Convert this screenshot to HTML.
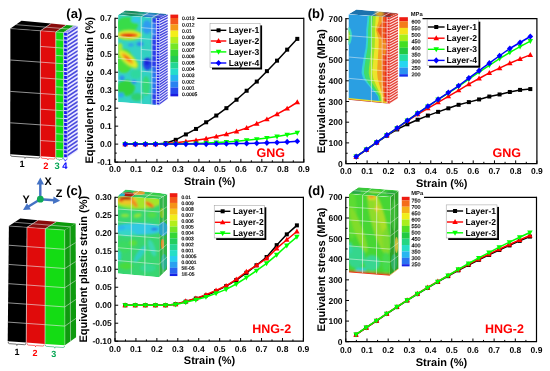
<!DOCTYPE html>
<html lang="en"><head><meta charset="utf-8"><title>Figure: GNG and HNG-2 layer strain / stress</title>
<style>html,body{margin:0;padding:0;background:#fff;}body{width:550px;height:371px;overflow:hidden;}svg{display:block;}</style></head>
<body>
<svg width="550" height="371" viewBox="0 0 550 371" text-rendering="geometricPrecision" font-family='"Liberation Sans", Arial, Helvetica, sans-serif'><defs><filter id="bl1" x="-30%" y="-30%" width="160%" height="160%"><feGaussianBlur stdDeviation="1.1"/></filter><filter id="bl2" x="-30%" y="-30%" width="160%" height="160%"><feGaussianBlur stdDeviation="1.8"/></filter><filter id="bl0" x="-30%" y="-30%" width="160%" height="160%"><feGaussianBlur stdDeviation="0.6"/></filter><clipPath id="cp1"><polygon points="118.1,14.9 125.2,10.5 167.7,14.1 159.6,18.2"/></clipPath><clipPath id="cp2"><polygon points="118.1,14.9 159.6,18.2 159.6,105.3 118.1,102"/></clipPath><clipPath id="cp3"><polygon points="348.5,14.3 356.4,9.4 398.1,13.2 389.9,17.2"/></clipPath><clipPath id="cp4"><polygon points="348.5,14.3 389.9,17.2 389.9,103.8 348.5,99.7"/></clipPath><clipPath id="cp5"><polygon points="117.9,196.1 125.5,189.6 167.3,194 159.1,198.9"/></clipPath><clipPath id="cp6"><polygon points="159.1,198.9 167.3,194 167,269.4 159.1,277.2"/></clipPath><clipPath id="cp7"><polygon points="117.9,196.1 159.1,198.9 159.1,277.2 117.9,273.5"/></clipPath><clipPath id="cp8"><polygon points="349,194 358.6,187.2 398.6,190.6 390.4,196.9"/></clipPath><clipPath id="cp9"><polygon points="390.4,196.9 398.6,190.6 398.6,268.6 389.9,275.2"/></clipPath><clipPath id="cp10"><polygon points="349,194 390.4,196.9 389.9,275.2 349,271.9"/></clipPath></defs><rect width="550" height="371" fill="#fff"/><g stroke="#000" stroke-width="1.2" fill="none" stroke-linecap="square">
<path d="M115 18.3 V162.1 H303.8 V18.3"/>
<path stroke-linecap="butt" d="M303.8 18.3 H197.2"/>
<path stroke-width="1" stroke-linecap="butt" d="M115 162.1v-3.2M125.49 162.1v-1.8M135.98 162.1v-3.2M146.47 162.1v-1.8M156.96 162.1v-3.2M167.44 162.1v-1.8M177.93 162.1v-3.2M188.42 162.1v-1.8M198.91 162.1v-3.2M209.4 162.1v-1.8M219.89 162.1v-3.2M230.38 162.1v-1.8M240.87 162.1v-3.2M251.36 162.1v-1.8M261.84 162.1v-3.2M272.33 162.1v-1.8M282.82 162.1v-3.2M293.31 162.1v-1.8M303.8 162.1v-3.2M115 162.1h3.2M115 153.11h1.8M115 144.12h3.2M115 135.14h1.8M115 126.15h3.2M115 117.16h1.8M115 108.17h3.2M115 99.19h1.8M115 90.2h3.2M115 81.21h1.8M115 72.22h3.2M115 63.24h1.8M115 54.25h3.2M115 45.26h1.8M115 36.27h3.2M115 27.29h1.8M115 18.3h3.2"/>
</g>
<g font-size="8.5" font-weight="bold" fill="#000">
<text x="115" y="172.3" text-anchor="middle">0.0</text>
<text x="135.98" y="172.3" text-anchor="middle">0.1</text>
<text x="156.96" y="172.3" text-anchor="middle">0.2</text>
<text x="177.93" y="172.3" text-anchor="middle">0.3</text>
<text x="198.91" y="172.3" text-anchor="middle">0.4</text>
<text x="219.89" y="172.3" text-anchor="middle">0.5</text>
<text x="240.87" y="172.3" text-anchor="middle">0.6</text>
<text x="261.84" y="172.3" text-anchor="middle">0.7</text>
<text x="282.82" y="172.3" text-anchor="middle">0.8</text>
<text x="303.8" y="172.3" text-anchor="middle">0.9</text>
<text x="111.8" y="165.15" text-anchor="end">-0.1</text>
<text x="111.8" y="147.18" text-anchor="end">0.0</text>
<text x="111.8" y="129.2" text-anchor="end">0.1</text>
<text x="111.8" y="111.22" text-anchor="end">0.2</text>
<text x="111.8" y="93.25" text-anchor="end">0.3</text>
<text x="111.8" y="75.27" text-anchor="end">0.4</text>
<text x="111.8" y="57.3" text-anchor="end">0.5</text>
<text x="111.8" y="39.32" text-anchor="end">0.6</text>
<text x="111.8" y="21.35" text-anchor="end">0.7</text>
</g>
<text x="209.7" y="184.8" font-size="11" font-weight="bold" fill="#000" text-anchor="middle">Strain (%)</text>
<text transform="translate(92.9 90.2) rotate(-90)" font-size="11" font-weight="bold" text-anchor="middle">Equivalent plastic strain (%)</text>
<polyline points="125.13,144.12 135.25,144.12 145.38,144.12 155.51,144.12 165.64,143.23 175.76,139.81 185.89,134.42 196.02,128.95 206.15,122.27 216.27,115.54 226.4,108.17 236.53,99.73 246.65,90.74 256.78,81.57 266.91,71.15 277.04,60.65 287.16,49.65 297.29,38.86" fill="none" stroke="#000000" stroke-width="1.5" stroke-linejoin="round"/>
<rect x="123.13" y="142.12" width="4" height="4" fill="#000000"/><rect x="133.25" y="142.12" width="4" height="4" fill="#000000"/><rect x="143.38" y="142.12" width="4" height="4" fill="#000000"/><rect x="153.51" y="142.12" width="4" height="4" fill="#000000"/><rect x="163.64" y="141.23" width="4" height="4" fill="#000000"/><rect x="173.76" y="137.81" width="4" height="4" fill="#000000"/><rect x="183.89" y="132.42" width="4" height="4" fill="#000000"/><rect x="194.02" y="126.95" width="4" height="4" fill="#000000"/><rect x="204.15" y="120.27" width="4" height="4" fill="#000000"/><rect x="214.27" y="113.54" width="4" height="4" fill="#000000"/><rect x="224.4" y="106.17" width="4" height="4" fill="#000000"/><rect x="234.53" y="97.73" width="4" height="4" fill="#000000"/><rect x="244.65" y="88.74" width="4" height="4" fill="#000000"/><rect x="254.78" y="79.57" width="4" height="4" fill="#000000"/><rect x="264.91" y="69.15" width="4" height="4" fill="#000000"/><rect x="275.04" y="58.65" width="4" height="4" fill="#000000"/><rect x="285.16" y="47.65" width="4" height="4" fill="#000000"/><rect x="295.29" y="36.86" width="4" height="4" fill="#000000"/>
<polyline points="125.13,144.12 135.25,144.12 145.38,144.12 155.51,144.12 165.64,143.59 175.76,142.69 185.89,141.61 196.02,140.35 206.15,138.73 216.27,136.58 226.4,134.24 236.53,131.36 246.65,127.95 256.78,123.63 266.91,119.32 277.04,114.11 287.16,108.53 297.29,102.24" fill="none" stroke="#ff0000" stroke-width="1.5" stroke-linejoin="round"/>
<polygon points="125.13,141.22 127.88,146.16 122.37,146.16" fill="#ff0000"/><polygon points="135.25,141.22 138.01,146.16 132.5,146.16" fill="#ff0000"/><polygon points="145.38,141.22 148.14,146.16 142.63,146.16" fill="#ff0000"/><polygon points="155.51,141.22 158.26,146.16 152.75,146.16" fill="#ff0000"/><polygon points="165.64,140.69 168.39,145.62 162.88,145.62" fill="#ff0000"/><polygon points="175.76,139.79 178.52,144.72 173.01,144.72" fill="#ff0000"/><polygon points="185.89,138.71 188.65,143.64 183.14,143.64" fill="#ff0000"/><polygon points="196.02,137.45 198.77,142.38 193.26,142.38" fill="#ff0000"/><polygon points="206.15,135.83 208.9,140.76 203.39,140.76" fill="#ff0000"/><polygon points="216.27,133.68 219.03,138.61 213.52,138.61" fill="#ff0000"/><polygon points="226.4,131.34 229.15,136.27 223.64,136.27" fill="#ff0000"/><polygon points="236.53,128.46 239.28,133.39 233.77,133.39" fill="#ff0000"/><polygon points="246.65,125.05 249.41,129.98 243.9,129.98" fill="#ff0000"/><polygon points="256.78,120.73 259.54,125.66 254.03,125.66" fill="#ff0000"/><polygon points="266.91,116.42 269.66,121.35 264.15,121.35" fill="#ff0000"/><polygon points="277.04,111.21 279.79,116.14 274.28,116.14" fill="#ff0000"/><polygon points="287.16,105.63 289.92,110.56 284.41,110.56" fill="#ff0000"/><polygon points="297.29,99.34 300.05,104.27 294.54,104.27" fill="#ff0000"/>
<polyline points="125.13,144.12 135.25,144.12 145.38,144.12 155.51,144.12 165.64,144.12 175.76,143.95 185.89,143.77 196.02,143.41 206.15,143.05 216.27,142.51 226.4,141.97 236.53,141.25 246.65,140.35 256.78,139.27 266.91,138.01 277.04,136.58 287.16,134.78 297.29,132.8" fill="none" stroke="#00ff00" stroke-width="1.5" stroke-linejoin="round"/>
<polygon points="125.13,147.03 127.88,142.09 122.37,142.09" fill="#00ff00"/><polygon points="135.25,147.03 138.01,142.09 132.5,142.09" fill="#00ff00"/><polygon points="145.38,147.03 148.14,142.09 142.63,142.09" fill="#00ff00"/><polygon points="155.51,147.03 158.26,142.09 152.75,142.09" fill="#00ff00"/><polygon points="165.64,147.03 168.39,142.09 162.88,142.09" fill="#00ff00"/><polygon points="175.76,146.85 178.52,141.92 173.01,141.92" fill="#00ff00"/><polygon points="185.89,146.67 188.65,141.74 183.14,141.74" fill="#00ff00"/><polygon points="196.02,146.31 198.77,141.38 193.26,141.38" fill="#00ff00"/><polygon points="206.15,145.95 208.9,141.02 203.39,141.02" fill="#00ff00"/><polygon points="216.27,145.41 219.03,140.48 213.52,140.48" fill="#00ff00"/><polygon points="226.4,144.87 229.15,139.94 223.64,139.94" fill="#00ff00"/><polygon points="236.53,144.15 239.28,139.22 233.77,139.22" fill="#00ff00"/><polygon points="246.65,143.25 249.41,138.32 243.9,138.32" fill="#00ff00"/><polygon points="256.78,142.17 259.54,137.24 254.03,137.24" fill="#00ff00"/><polygon points="266.91,140.91 269.66,135.98 264.15,135.98" fill="#00ff00"/><polygon points="277.04,139.48 279.79,134.55 274.28,134.55" fill="#00ff00"/><polygon points="287.16,137.68 289.92,132.75 284.41,132.75" fill="#00ff00"/><polygon points="297.29,135.7 300.05,130.77 294.54,130.77" fill="#00ff00"/>
<polyline points="125.13,144.12 135.25,144.12 145.38,144.12 155.51,144.12 165.64,144.12 175.76,144.12 185.89,144.12 196.02,144.12 206.15,144.12 216.27,143.95 226.4,143.77 236.53,143.59 246.65,143.41 256.78,143.23 266.91,142.87 277.04,142.51 287.16,141.97 297.29,141.25" fill="none" stroke="#0000ff" stroke-width="1.5" stroke-linejoin="round"/>
<polygon points="125.13,141.03 127.98,144.12 125.13,147.22 122.28,144.12" fill="#0000ff"/><polygon points="135.25,141.03 138.11,144.12 135.25,147.22 132.4,144.12" fill="#0000ff"/><polygon points="145.38,141.03 148.23,144.12 145.38,147.22 142.53,144.12" fill="#0000ff"/><polygon points="155.51,141.03 158.36,144.12 155.51,147.22 152.66,144.12" fill="#0000ff"/><polygon points="165.64,141.03 168.49,144.12 165.64,147.22 162.78,144.12" fill="#0000ff"/><polygon points="175.76,141.03 178.62,144.12 175.76,147.22 172.91,144.12" fill="#0000ff"/><polygon points="185.89,141.03 188.74,144.12 185.89,147.22 183.04,144.12" fill="#0000ff"/><polygon points="196.02,141.03 198.87,144.12 196.02,147.22 193.17,144.12" fill="#0000ff"/><polygon points="206.15,141.03 209,144.12 206.15,147.22 203.29,144.12" fill="#0000ff"/><polygon points="216.27,140.85 219.12,143.95 216.27,147.05 213.42,143.95" fill="#0000ff"/><polygon points="226.4,140.67 229.25,143.77 226.4,146.87 223.55,143.77" fill="#0000ff"/><polygon points="236.53,140.49 239.38,143.59 236.53,146.69 233.67,143.59" fill="#0000ff"/><polygon points="246.65,140.31 249.51,143.41 246.65,146.51 243.8,143.41" fill="#0000ff"/><polygon points="256.78,140.13 259.63,143.23 256.78,146.33 253.93,143.23" fill="#0000ff"/><polygon points="266.91,139.77 269.76,142.87 266.91,145.97 264.06,142.87" fill="#0000ff"/><polygon points="277.04,139.41 279.89,142.51 277.04,145.61 274.18,142.51" fill="#0000ff"/><polygon points="287.16,138.87 290.01,141.97 287.16,145.07 284.31,141.97" fill="#0000ff"/><polygon points="297.29,138.15 300.14,141.25 297.29,144.35 294.44,141.25" fill="#0000ff"/>
<rect x="212" y="25.4" width="50.1" height="44.1" fill="#000"/>
<rect x="210" y="23.4" width="50.1" height="44.1" fill="#fff" stroke="#9a9a9a" stroke-width="0.5"/>
<path d="M210.8 30.3H226.3" stroke="#000000" stroke-width="1.4"/>
<rect x="216.55" y="28.3" width="4" height="4" fill="#000000"/>
<text x="228.8" y="33.3" font-size="8.6" font-weight="bold">Layer-1</text>
<path d="M210.8 41H226.3" stroke="#ff0000" stroke-width="1.4"/>
<polygon points="218.55,38.1 221.31,43.03 215.8,43.03" fill="#ff0000"/>
<text x="228.8" y="44" font-size="8.6" font-weight="bold">Layer-2</text>
<path d="M210.8 51.9H226.3" stroke="#00ff00" stroke-width="1.4"/>
<polygon points="218.55,54.8 221.31,49.87 215.8,49.87" fill="#00ff00"/>
<text x="228.8" y="54.9" font-size="8.6" font-weight="bold">Layer-3</text>
<path d="M210.8 63H226.3" stroke="#0000ff" stroke-width="1.4"/>
<polygon points="218.55,59.9 221.4,63 218.55,66.1 215.7,63" fill="#0000ff"/>
<text x="228.8" y="66" font-size="8.6" font-weight="bold">Layer-4</text>
<text x="74.3" y="18.2" font-size="13" font-weight="bold" fill="#000" text-anchor="middle">(a)</text>
<text x="256.6" y="156.6" font-size="12.5" font-weight="bold" fill="#ff0000" text-anchor="start">GNG</text>
<g stroke="#000" stroke-width="1.2" fill="none" stroke-linecap="square">
<path d="M345.9 18.7 V163.6 H536.9 V18.7"/>
<path stroke-linecap="butt" d="M536.9 18.7 H422.5"/>
<path stroke-width="1" stroke-linecap="butt" d="M345.9 163.6v-3.2M356.51 163.6v-1.8M367.12 163.6v-3.2M377.73 163.6v-1.8M388.34 163.6v-3.2M398.96 163.6v-1.8M409.57 163.6v-3.2M420.18 163.6v-1.8M430.79 163.6v-3.2M441.4 163.6v-1.8M452.01 163.6v-3.2M462.62 163.6v-1.8M473.23 163.6v-3.2M483.84 163.6v-1.8M494.46 163.6v-3.2M505.07 163.6v-1.8M515.68 163.6v-3.2M526.29 163.6v-1.8M536.9 163.6v-3.2M345.9 163.6h3.2M345.9 153.25h1.8M345.9 142.9h3.2M345.9 132.55h1.8M345.9 122.2h3.2M345.9 111.85h1.8M345.9 101.5h3.2M345.9 91.15h1.8M345.9 80.8h3.2M345.9 70.45h1.8M345.9 60.1h3.2M345.9 49.75h1.8M345.9 39.4h3.2M345.9 29.05h1.8M345.9 18.7h3.2"/>
</g>
<g font-size="8.5" font-weight="bold" fill="#000">
<text x="345.9" y="174.3" text-anchor="middle">0.0</text>
<text x="367.12" y="174.3" text-anchor="middle">0.1</text>
<text x="388.34" y="174.3" text-anchor="middle">0.2</text>
<text x="409.57" y="174.3" text-anchor="middle">0.3</text>
<text x="430.79" y="174.3" text-anchor="middle">0.4</text>
<text x="452.01" y="174.3" text-anchor="middle">0.5</text>
<text x="473.23" y="174.3" text-anchor="middle">0.6</text>
<text x="494.46" y="174.3" text-anchor="middle">0.7</text>
<text x="515.68" y="174.3" text-anchor="middle">0.8</text>
<text x="536.9" y="174.3" text-anchor="middle">0.9</text>
<text x="342.7" y="166.65" text-anchor="end">0</text>
<text x="342.7" y="145.95" text-anchor="end">100</text>
<text x="342.7" y="125.25" text-anchor="end">200</text>
<text x="342.7" y="104.55" text-anchor="end">300</text>
<text x="342.7" y="83.85" text-anchor="end">400</text>
<text x="342.7" y="63.15" text-anchor="end">500</text>
<text x="342.7" y="42.45" text-anchor="end">600</text>
<text x="342.7" y="21.75" text-anchor="end">700</text>
</g>
<text x="441.7" y="186.6" font-size="11" font-weight="bold" fill="#000" text-anchor="middle">Strain (%)</text>
<text transform="translate(324.6 91.15) rotate(-90)" font-size="11" font-weight="bold" text-anchor="middle">Equivalent stress (MPa)</text>
<polyline points="356.15,156.77 366.39,149.73 376.64,142.69 386.88,135.66 397.13,129.44 407.37,124.27 417.62,119.72 427.86,115.58 438.11,111.85 448.35,108.33 458.6,104.81 468.84,102.12 479.09,99.43 489.33,96.53 499.58,94.46 509.82,91.98 520.07,89.91 530.31,89.08" fill="none" stroke="#000000" stroke-width="1.5" stroke-linejoin="round"/>
<rect x="354.15" y="154.77" width="4" height="4" fill="#000000"/><rect x="364.39" y="147.73" width="4" height="4" fill="#000000"/><rect x="374.64" y="140.69" width="4" height="4" fill="#000000"/><rect x="384.88" y="133.66" width="4" height="4" fill="#000000"/><rect x="395.13" y="127.44" width="4" height="4" fill="#000000"/><rect x="405.37" y="122.27" width="4" height="4" fill="#000000"/><rect x="415.62" y="117.72" width="4" height="4" fill="#000000"/><rect x="425.86" y="113.58" width="4" height="4" fill="#000000"/><rect x="436.11" y="109.85" width="4" height="4" fill="#000000"/><rect x="446.35" y="106.33" width="4" height="4" fill="#000000"/><rect x="456.6" y="102.81" width="4" height="4" fill="#000000"/><rect x="466.84" y="100.12" width="4" height="4" fill="#000000"/><rect x="477.09" y="97.43" width="4" height="4" fill="#000000"/><rect x="487.33" y="94.53" width="4" height="4" fill="#000000"/><rect x="497.58" y="92.46" width="4" height="4" fill="#000000"/><rect x="507.82" y="89.98" width="4" height="4" fill="#000000"/><rect x="518.07" y="87.91" width="4" height="4" fill="#000000"/><rect x="528.31" y="87.08" width="4" height="4" fill="#000000"/>
<polyline points="356.15,156.77 366.39,149.73 376.64,142.49 386.88,135.24 397.13,128.2 407.37,120.96 417.62,114.33 427.86,108.33 438.11,102.33 448.35,96.32 458.6,90.32 468.84,84.11 479.09,78.52 489.33,72.93 499.58,68.17 509.82,63.2 520.07,58.86 530.31,54.92" fill="none" stroke="#ff0000" stroke-width="1.5" stroke-linejoin="round"/>
<polygon points="356.15,153.87 358.9,158.8 353.39,158.8" fill="#ff0000"/><polygon points="366.39,146.83 369.15,151.76 363.64,151.76" fill="#ff0000"/><polygon points="376.64,139.59 379.39,144.52 373.88,144.52" fill="#ff0000"/><polygon points="386.88,132.34 389.64,137.27 384.13,137.27" fill="#ff0000"/><polygon points="397.13,125.3 399.88,130.23 394.37,130.23" fill="#ff0000"/><polygon points="407.37,118.06 410.13,122.99 404.62,122.99" fill="#ff0000"/><polygon points="417.62,111.43 420.37,116.36 414.86,116.36" fill="#ff0000"/><polygon points="427.86,105.43 430.62,110.36 425.11,110.36" fill="#ff0000"/><polygon points="438.11,99.43 440.86,104.36 435.35,104.36" fill="#ff0000"/><polygon points="448.35,93.42 451.11,98.35 445.6,98.35" fill="#ff0000"/><polygon points="458.6,87.42 461.35,92.35 455.84,92.35" fill="#ff0000"/><polygon points="468.84,81.21 471.6,86.14 466.09,86.14" fill="#ff0000"/><polygon points="479.09,75.62 481.84,80.55 476.33,80.55" fill="#ff0000"/><polygon points="489.33,70.03 492.09,74.96 486.58,74.96" fill="#ff0000"/><polygon points="499.58,65.27 502.33,70.2 496.82,70.2" fill="#ff0000"/><polygon points="509.82,60.3 512.58,65.23 507.07,65.23" fill="#ff0000"/><polygon points="520.07,55.96 522.82,60.89 517.31,60.89" fill="#ff0000"/><polygon points="530.31,52.02 533.07,56.95 527.56,56.95" fill="#ff0000"/>
<polyline points="356.15,156.56 366.39,149.52 376.64,142.28 386.88,135.03 397.13,128 407.37,120.54 417.62,113.3 427.86,106.47 438.11,99.64 448.35,93.01 458.6,86.39 468.84,79.14 479.09,72.11 489.33,65.27 499.58,58.65 509.82,52.44 520.07,46.64 530.31,41.06" fill="none" stroke="#00ff00" stroke-width="1.5" stroke-linejoin="round"/>
<polygon points="356.15,159.46 358.9,154.53 353.39,154.53" fill="#00ff00"/><polygon points="366.39,152.42 369.15,147.49 363.64,147.49" fill="#00ff00"/><polygon points="376.64,145.18 379.39,140.25 373.88,140.25" fill="#00ff00"/><polygon points="386.88,137.93 389.64,133 384.13,133" fill="#00ff00"/><polygon points="397.13,130.9 399.88,125.97 394.37,125.97" fill="#00ff00"/><polygon points="407.37,123.44 410.13,118.51 404.62,118.51" fill="#00ff00"/><polygon points="417.62,116.2 420.37,111.27 414.86,111.27" fill="#00ff00"/><polygon points="427.86,109.37 430.62,104.44 425.11,104.44" fill="#00ff00"/><polygon points="438.11,102.54 440.86,97.61 435.35,97.61" fill="#00ff00"/><polygon points="448.35,95.91 451.11,90.98 445.6,90.98" fill="#00ff00"/><polygon points="458.6,89.29 461.35,84.36 455.84,84.36" fill="#00ff00"/><polygon points="468.84,82.04 471.6,77.11 466.09,77.11" fill="#00ff00"/><polygon points="479.09,75.01 481.84,70.08 476.33,70.08" fill="#00ff00"/><polygon points="489.33,68.17 492.09,63.24 486.58,63.24" fill="#00ff00"/><polygon points="499.58,61.55 502.33,56.62 496.82,56.62" fill="#00ff00"/><polygon points="509.82,55.34 512.58,50.41 507.07,50.41" fill="#00ff00"/><polygon points="520.07,49.54 522.82,44.61 517.31,44.61" fill="#00ff00"/><polygon points="530.31,43.96 533.07,39.03 527.56,39.03" fill="#00ff00"/>
<polyline points="356.15,156.56 366.39,149.52 376.64,142.28 386.88,135.03 397.13,128 407.37,120.54 417.62,113.3 427.86,106.26 438.11,99.43 448.35,92.6 458.6,85.77 468.84,78.11 479.09,70.66 489.33,63.2 499.58,55.75 509.82,48.51 520.07,42.5 530.31,36.5" fill="none" stroke="#0000ff" stroke-width="1.5" stroke-linejoin="round"/>
<polygon points="356.15,153.46 359,156.56 356.15,159.66 353.29,156.56" fill="#0000ff"/><polygon points="366.39,146.42 369.24,149.52 366.39,152.62 363.54,149.52" fill="#0000ff"/><polygon points="376.64,139.18 379.49,142.28 376.64,145.38 373.78,142.28" fill="#0000ff"/><polygon points="386.88,131.93 389.73,135.03 386.88,138.13 384.03,135.03" fill="#0000ff"/><polygon points="397.13,124.9 399.98,128 397.13,131.1 394.27,128" fill="#0000ff"/><polygon points="407.37,117.44 410.22,120.54 407.37,123.64 404.52,120.54" fill="#0000ff"/><polygon points="417.62,110.2 420.47,113.3 417.62,116.4 414.76,113.3" fill="#0000ff"/><polygon points="427.86,103.16 430.71,106.26 427.86,109.36 425.01,106.26" fill="#0000ff"/><polygon points="438.11,96.33 440.96,99.43 438.11,102.53 435.26,99.43" fill="#0000ff"/><polygon points="448.35,89.5 451.2,92.6 448.35,95.7 445.5,92.6" fill="#0000ff"/><polygon points="458.6,82.67 461.45,85.77 458.6,88.87 455.75,85.77" fill="#0000ff"/><polygon points="468.84,75.01 471.69,78.11 468.84,81.21 465.99,78.11" fill="#0000ff"/><polygon points="479.09,67.56 481.94,70.66 479.09,73.76 476.24,70.66" fill="#0000ff"/><polygon points="489.33,60.1 492.19,63.2 489.33,66.3 486.48,63.2" fill="#0000ff"/><polygon points="499.58,52.65 502.43,55.75 499.58,58.85 496.73,55.75" fill="#0000ff"/><polygon points="509.82,45.41 512.68,48.51 509.82,51.61 506.97,48.51" fill="#0000ff"/><polygon points="520.07,39.4 522.92,42.5 520.07,45.6 517.22,42.5" fill="#0000ff"/><polygon points="530.31,33.4 533.17,36.5 530.31,39.6 527.46,36.5" fill="#0000ff"/>
<rect x="429.1" y="21.7" width="51.2" height="46" fill="#000"/>
<rect x="427.1" y="19.7" width="51.2" height="46" fill="#fff" stroke="#9a9a9a" stroke-width="0.5"/>
<path d="M427.9 27H444.6" stroke="#000000" stroke-width="1.4"/>
<rect x="434.25" y="25" width="4" height="4" fill="#000000"/>
<text x="446.5" y="30" font-size="8.6" font-weight="bold">Layer-1</text>
<path d="M427.9 38.2H444.6" stroke="#ff0000" stroke-width="1.4"/>
<polygon points="436.25,35.3 439,40.23 433.5,40.23" fill="#ff0000"/>
<text x="446.5" y="41.2" font-size="8.6" font-weight="bold">Layer-2</text>
<path d="M427.9 49.3H444.6" stroke="#00ff00" stroke-width="1.4"/>
<polygon points="436.25,52.2 439,47.27 433.5,47.27" fill="#00ff00"/>
<text x="446.5" y="52.3" font-size="8.6" font-weight="bold">Layer-3</text>
<path d="M427.9 60.4H444.6" stroke="#0000ff" stroke-width="1.4"/>
<polygon points="436.25,57.3 439.1,60.4 436.25,63.5 433.4,60.4" fill="#0000ff"/>
<text x="446.5" y="63.4" font-size="8.6" font-weight="bold">Layer-4</text>
<text x="316" y="18.4" font-size="13" font-weight="bold" fill="#000" text-anchor="middle">(b)</text>
<text x="492.6" y="156.7" font-size="12.5" font-weight="bold" fill="#ff0000" text-anchor="start">GNG</text>
<g stroke="#000" stroke-width="1.2" fill="none" stroke-linecap="square">
<path d="M115 197.3 V341.2 H303.4 V197.3"/>
<path stroke-linecap="butt" d="M303.4 197.3 H197.6"/>
<path stroke-width="1" stroke-linecap="butt" d="M115 341.2v-3.2M125.47 341.2v-1.8M135.93 341.2v-3.2M146.4 341.2v-1.8M156.87 341.2v-3.2M167.33 341.2v-1.8M177.8 341.2v-3.2M188.27 341.2v-1.8M198.73 341.2v-3.2M209.2 341.2v-1.8M219.67 341.2v-3.2M230.13 341.2v-1.8M240.6 341.2v-3.2M251.07 341.2v-1.8M261.53 341.2v-3.2M272 341.2v-1.8M282.47 341.2v-3.2M292.93 341.2v-1.8M303.4 341.2v-3.2M115 341.2h3.2M115 332.21h1.8M115 323.21h3.2M115 314.22h1.8M115 305.23h3.2M115 296.23h1.8M115 287.24h3.2M115 278.24h1.8M115 269.25h3.2M115 260.26h1.8M115 251.26h3.2M115 242.27h1.8M115 233.27h3.2M115 224.28h1.8M115 215.29h3.2M115 206.29h1.8M115 197.3h3.2"/>
</g>
<g font-size="8.5" font-weight="bold" fill="#000">
<text x="115" y="351.8" text-anchor="middle">0.0</text>
<text x="135.93" y="351.8" text-anchor="middle">0.1</text>
<text x="156.87" y="351.8" text-anchor="middle">0.2</text>
<text x="177.8" y="351.8" text-anchor="middle">0.3</text>
<text x="198.73" y="351.8" text-anchor="middle">0.4</text>
<text x="219.67" y="351.8" text-anchor="middle">0.5</text>
<text x="240.6" y="351.8" text-anchor="middle">0.6</text>
<text x="261.53" y="351.8" text-anchor="middle">0.7</text>
<text x="282.47" y="351.8" text-anchor="middle">0.8</text>
<text x="303.4" y="351.8" text-anchor="middle">0.9</text>
<text x="111.8" y="344.25" text-anchor="end">-0.10</text>
<text x="111.8" y="326.26" text-anchor="end">-0.05</text>
<text x="111.8" y="308.28" text-anchor="end">0.00</text>
<text x="111.8" y="290.29" text-anchor="end">0.05</text>
<text x="111.8" y="272.3" text-anchor="end">0.10</text>
<text x="111.8" y="254.31" text-anchor="end">0.15</text>
<text x="111.8" y="236.32" text-anchor="end">0.20</text>
<text x="111.8" y="218.34" text-anchor="end">0.25</text>
<text x="111.8" y="200.35" text-anchor="end">0.30</text>
</g>
<text x="209.5" y="364.2" font-size="11" font-weight="bold" fill="#000" text-anchor="middle">Strain (%)</text>
<text transform="translate(87.3 269.25) rotate(-90)" font-size="11" font-weight="bold" text-anchor="middle">Equivalent plastic strain (%)</text>
<polyline points="125.11,305.23 135.21,305.23 145.32,305.23 155.42,305.23 165.53,305.23 175.63,304.15 185.74,301.63 195.85,298.53 205.95,295.51 216.06,291.19 226.16,286.16 236.27,280.04 246.38,272.85 256.48,265.29 266.59,257.02 276.69,245.15 286.8,234.35 296.9,225.36" fill="none" stroke="#000000" stroke-width="1.5" stroke-linejoin="round"/>
<rect x="123.11" y="303.23" width="4" height="4" fill="#000000"/><rect x="133.21" y="303.23" width="4" height="4" fill="#000000"/><rect x="143.32" y="303.23" width="4" height="4" fill="#000000"/><rect x="153.42" y="303.23" width="4" height="4" fill="#000000"/><rect x="163.53" y="303.23" width="4" height="4" fill="#000000"/><rect x="173.63" y="302.15" width="4" height="4" fill="#000000"/><rect x="183.74" y="299.63" width="4" height="4" fill="#000000"/><rect x="193.85" y="296.53" width="4" height="4" fill="#000000"/><rect x="203.95" y="293.51" width="4" height="4" fill="#000000"/><rect x="214.06" y="289.19" width="4" height="4" fill="#000000"/><rect x="224.16" y="284.16" width="4" height="4" fill="#000000"/><rect x="234.27" y="278.04" width="4" height="4" fill="#000000"/><rect x="244.38" y="270.85" width="4" height="4" fill="#000000"/><rect x="254.48" y="263.29" width="4" height="4" fill="#000000"/><rect x="264.59" y="255.02" width="4" height="4" fill="#000000"/><rect x="274.69" y="243.15" width="4" height="4" fill="#000000"/><rect x="284.8" y="232.35" width="4" height="4" fill="#000000"/><rect x="294.9" y="223.36" width="4" height="4" fill="#000000"/>
<polyline points="125.11,305.23 135.21,305.23 145.32,305.23 155.42,305.23 165.53,305.23 175.63,304.15 185.74,301.27 195.85,298.39 205.95,294.79 216.06,290.48 226.16,285.8 236.27,279.32 246.38,271.77 256.48,265.29 266.59,258.46 276.69,248.38 286.8,239.75 296.9,231.48" fill="none" stroke="#ff0000" stroke-width="1.5" stroke-linejoin="round"/>
<polygon points="125.11,302.33 127.86,307.25 122.35,307.25" fill="#ff0000"/><polygon points="135.21,302.33 137.97,307.25 132.46,307.25" fill="#ff0000"/><polygon points="145.32,302.33 148.07,307.25 142.56,307.25" fill="#ff0000"/><polygon points="155.42,302.33 158.18,307.25 152.67,307.25" fill="#ff0000"/><polygon points="165.53,302.33 168.28,307.25 162.77,307.25" fill="#ff0000"/><polygon points="175.63,301.25 178.39,306.18 172.88,306.18" fill="#ff0000"/><polygon points="185.74,298.37 188.5,303.3 182.99,303.3" fill="#ff0000"/><polygon points="195.85,295.49 198.6,300.42 193.09,300.42" fill="#ff0000"/><polygon points="205.95,291.89 208.71,296.82 203.2,296.82" fill="#ff0000"/><polygon points="216.06,287.58 218.81,292.51 213.3,292.51" fill="#ff0000"/><polygon points="226.16,282.9 228.92,287.83 223.41,287.83" fill="#ff0000"/><polygon points="236.27,276.42 239.02,281.35 233.51,281.35" fill="#ff0000"/><polygon points="246.38,268.87 249.13,273.8 243.62,273.8" fill="#ff0000"/><polygon points="256.48,262.39 259.24,267.32 253.73,267.32" fill="#ff0000"/><polygon points="266.59,255.56 269.34,260.49 263.83,260.49" fill="#ff0000"/><polygon points="276.69,245.48 279.45,250.41 273.94,250.41" fill="#ff0000"/><polygon points="286.8,236.85 289.55,241.78 284.04,241.78" fill="#ff0000"/><polygon points="296.9,228.58 299.66,233.51 294.15,233.51" fill="#ff0000"/>
<polyline points="125.11,305.23 135.21,305.23 145.32,305.23 155.42,305.23 165.53,305.23 175.63,304.51 185.74,302.35 195.85,299.83 205.95,296.95 216.06,293.35 226.16,289.4 236.27,284 246.38,277.52 256.48,270.69 266.59,263.31 276.69,254.86 286.8,245.51 296.9,236.87" fill="none" stroke="#00ff00" stroke-width="1.5" stroke-linejoin="round"/>
<polygon points="125.11,308.12 127.86,303.2 122.35,303.2" fill="#00ff00"/><polygon points="135.21,308.12 137.97,303.2 132.46,303.2" fill="#00ff00"/><polygon points="145.32,308.12 148.07,303.2 142.56,303.2" fill="#00ff00"/><polygon points="155.42,308.12 158.18,303.2 152.67,303.2" fill="#00ff00"/><polygon points="165.53,308.12 168.28,303.2 162.77,303.2" fill="#00ff00"/><polygon points="175.63,307.41 178.39,302.48 172.88,302.48" fill="#00ff00"/><polygon points="185.74,305.25 188.5,300.32 182.99,300.32" fill="#00ff00"/><polygon points="195.85,302.73 198.6,297.8 193.09,297.8" fill="#00ff00"/><polygon points="205.95,299.85 208.71,294.92 203.2,294.92" fill="#00ff00"/><polygon points="216.06,296.25 218.81,291.32 213.3,291.32" fill="#00ff00"/><polygon points="226.16,292.3 228.92,287.37 223.41,287.37" fill="#00ff00"/><polygon points="236.27,286.9 239.02,281.97 233.51,281.97" fill="#00ff00"/><polygon points="246.38,280.42 249.13,275.49 243.62,275.49" fill="#00ff00"/><polygon points="256.48,273.59 259.24,268.66 253.73,268.66" fill="#00ff00"/><polygon points="266.59,266.21 269.34,261.28 263.83,261.28" fill="#00ff00"/><polygon points="276.69,257.76 279.45,252.83 273.94,252.83" fill="#00ff00"/><polygon points="286.8,248.41 289.55,243.48 284.04,243.48" fill="#00ff00"/><polygon points="296.9,239.77 299.66,234.84 294.15,234.84" fill="#00ff00"/>
<rect x="216.2" y="207.3" width="50.1" height="32.7" fill="#000"/>
<rect x="214.2" y="205.3" width="50.1" height="32.7" fill="#fff" stroke="#9a9a9a" stroke-width="0.5"/>
<path d="M214.9 211.3H230.4" stroke="#000000" stroke-width="1.4"/>
<rect x="220.65" y="209.3" width="4" height="4" fill="#000000"/>
<text x="233.1" y="214.3" font-size="8.6" font-weight="bold">Layer-1</text>
<path d="M214.9 222.3H230.4" stroke="#ff0000" stroke-width="1.4"/>
<polygon points="222.65,219.4 225.41,224.33 219.9,224.33" fill="#ff0000"/>
<text x="233.1" y="225.3" font-size="8.6" font-weight="bold">Layer-2</text>
<path d="M214.9 233.3H230.4" stroke="#00ff00" stroke-width="1.4"/>
<polygon points="222.65,236.2 225.41,231.27 219.9,231.27" fill="#00ff00"/>
<text x="233.1" y="236.3" font-size="8.6" font-weight="bold">Layer-3</text>
<text x="74.2" y="195.3" font-size="13" font-weight="bold" fill="#000" text-anchor="middle">(c)</text>
<text x="252.2" y="332.9" font-size="12.5" font-weight="bold" fill="#ff0000" text-anchor="start">HNG-2</text>
<g stroke="#000" stroke-width="1.2" fill="none" stroke-linecap="square">
<path d="M345.8 197.4 V341.7 H536.5 V197.4"/>
<path stroke-linecap="butt" d="M536.5 197.4 H424"/>
<path stroke-width="1" stroke-linecap="butt" d="M345.8 341.7v-3.2M356.39 341.7v-1.8M366.99 341.7v-3.2M377.58 341.7v-1.8M388.18 341.7v-3.2M398.77 341.7v-1.8M409.37 341.7v-3.2M419.96 341.7v-1.8M430.56 341.7v-3.2M441.15 341.7v-1.8M451.74 341.7v-3.2M462.34 341.7v-1.8M472.93 341.7v-3.2M483.53 341.7v-1.8M494.12 341.7v-3.2M504.72 341.7v-1.8M515.31 341.7v-3.2M525.91 341.7v-1.8M536.5 341.7v-3.2M345.8 341.7h3.2M345.8 331.39h1.8M345.8 321.09h3.2M345.8 310.78h1.8M345.8 300.47h3.2M345.8 290.16h1.8M345.8 279.86h3.2M345.8 269.55h1.8M345.8 259.24h3.2M345.8 248.94h1.8M345.8 238.63h3.2M345.8 228.32h1.8M345.8 218.01h3.2M345.8 207.71h1.8M345.8 197.4h3.2"/>
</g>
<g font-size="8.5" font-weight="bold" fill="#000">
<text x="345.8" y="353.1" text-anchor="middle">0.0</text>
<text x="366.99" y="353.1" text-anchor="middle">0.1</text>
<text x="388.18" y="353.1" text-anchor="middle">0.2</text>
<text x="409.37" y="353.1" text-anchor="middle">0.3</text>
<text x="430.56" y="353.1" text-anchor="middle">0.4</text>
<text x="451.74" y="353.1" text-anchor="middle">0.5</text>
<text x="472.93" y="353.1" text-anchor="middle">0.6</text>
<text x="494.12" y="353.1" text-anchor="middle">0.7</text>
<text x="515.31" y="353.1" text-anchor="middle">0.8</text>
<text x="536.5" y="353.1" text-anchor="middle">0.9</text>
<text x="342.6" y="344.75" text-anchor="end">0</text>
<text x="342.6" y="324.14" text-anchor="end">100</text>
<text x="342.6" y="303.52" text-anchor="end">200</text>
<text x="342.6" y="282.91" text-anchor="end">300</text>
<text x="342.6" y="262.29" text-anchor="end">400</text>
<text x="342.6" y="241.68" text-anchor="end">500</text>
<text x="342.6" y="221.06" text-anchor="end">600</text>
<text x="342.6" y="200.45" text-anchor="end">700</text>
</g>
<text x="441.45" y="365.9" font-size="11" font-weight="bold" fill="#000" text-anchor="middle">Strain (%)</text>
<text transform="translate(324.6 269.55) rotate(-90)" font-size="11" font-weight="bold" text-anchor="middle">Equivalent stress (MPa)</text>
<polyline points="356.03,334.69 366.26,327.68 376.49,320.88 386.72,313.87 396.95,307.07 407.17,300.47 417.4,294.08 427.63,287.9 437.86,281.92 448.09,276.15 458.32,270.37 468.55,265.01 478.78,259.86 489.01,254.91 499.24,249.97 509.47,245.43 519.7,240.9 529.92,236.57" fill="none" stroke="#000000" stroke-width="1.5" stroke-linejoin="round"/>
<rect x="354.03" y="332.69" width="4" height="4" fill="#000000"/><rect x="364.26" y="325.68" width="4" height="4" fill="#000000"/><rect x="374.49" y="318.88" width="4" height="4" fill="#000000"/><rect x="384.72" y="311.87" width="4" height="4" fill="#000000"/><rect x="394.95" y="305.07" width="4" height="4" fill="#000000"/><rect x="405.17" y="298.47" width="4" height="4" fill="#000000"/><rect x="415.4" y="292.08" width="4" height="4" fill="#000000"/><rect x="425.63" y="285.9" width="4" height="4" fill="#000000"/><rect x="435.86" y="279.92" width="4" height="4" fill="#000000"/><rect x="446.09" y="274.15" width="4" height="4" fill="#000000"/><rect x="456.32" y="268.37" width="4" height="4" fill="#000000"/><rect x="466.55" y="263.01" width="4" height="4" fill="#000000"/><rect x="476.78" y="257.86" width="4" height="4" fill="#000000"/><rect x="487.01" y="252.91" width="4" height="4" fill="#000000"/><rect x="497.24" y="247.97" width="4" height="4" fill="#000000"/><rect x="507.47" y="243.43" width="4" height="4" fill="#000000"/><rect x="517.7" y="238.9" width="4" height="4" fill="#000000"/><rect x="527.92" y="234.57" width="4" height="4" fill="#000000"/>
<polyline points="356.03,334.69 366.26,327.62 376.49,320.76 386.72,313.69 396.95,306.82 407.17,300.16 417.4,293.71 427.63,287.46 437.86,281.42 448.09,275.59 458.32,269.76 468.55,264.33 478.78,259.12 489.01,254.11 499.24,249.1 509.47,244.5 519.7,239.91 529.92,235.54" fill="none" stroke="#ff0000" stroke-width="1.5" stroke-linejoin="round"/>
<polygon points="356.03,331.79 358.78,336.72 353.27,336.72" fill="#ff0000"/><polygon points="366.26,324.72 369.01,329.65 363.5,329.65" fill="#ff0000"/><polygon points="376.49,317.86 379.24,322.79 373.73,322.79" fill="#ff0000"/><polygon points="386.72,310.79 389.47,315.72 383.96,315.72" fill="#ff0000"/><polygon points="396.95,303.92 399.7,308.85 394.19,308.85" fill="#ff0000"/><polygon points="407.17,297.26 409.93,302.19 404.42,302.19" fill="#ff0000"/><polygon points="417.4,290.81 420.16,295.74 414.65,295.74" fill="#ff0000"/><polygon points="427.63,284.56 430.39,289.49 424.88,289.49" fill="#ff0000"/><polygon points="437.86,278.52 440.62,283.45 435.11,283.45" fill="#ff0000"/><polygon points="448.09,272.69 450.85,277.62 445.34,277.62" fill="#ff0000"/><polygon points="458.32,266.86 461.08,271.79 455.57,271.79" fill="#ff0000"/><polygon points="468.55,261.43 471.3,266.36 465.79,266.36" fill="#ff0000"/><polygon points="478.78,256.22 481.53,261.15 476.02,261.15" fill="#ff0000"/><polygon points="489.01,251.21 491.76,256.14 486.25,256.14" fill="#ff0000"/><polygon points="499.24,246.2 501.99,251.13 496.48,251.13" fill="#ff0000"/><polygon points="509.47,241.6 512.22,246.53 506.71,246.53" fill="#ff0000"/><polygon points="519.7,237.01 522.45,241.94 516.94,241.94" fill="#ff0000"/><polygon points="529.92,232.64 532.68,237.57 527.17,237.57" fill="#ff0000"/>
<polyline points="356.03,334.49 366.26,327.48 376.49,320.67 386.72,313.66 396.95,306.86 407.17,300.27 417.4,293.87 427.63,287.69 437.86,281.71 448.09,275.51 458.32,269.3 468.55,263.51 478.78,257.92 489.01,252.54 499.24,247.16 509.47,242.19 519.7,237.23 529.92,232.46" fill="none" stroke="#00ff00" stroke-width="1.5" stroke-linejoin="round"/>
<polygon points="356.03,337.38 358.78,332.46 353.27,332.46" fill="#00ff00"/><polygon points="366.26,330.38 369.01,325.45 363.5,325.45" fill="#00ff00"/><polygon points="376.49,323.57 379.24,318.64 373.73,318.64" fill="#00ff00"/><polygon points="386.72,316.56 389.47,311.63 383.96,311.63" fill="#00ff00"/><polygon points="396.95,309.76 399.7,304.83 394.19,304.83" fill="#00ff00"/><polygon points="407.17,303.17 409.93,298.24 404.42,298.24" fill="#00ff00"/><polygon points="417.4,296.77 420.16,291.84 414.65,291.84" fill="#00ff00"/><polygon points="427.63,290.59 430.39,285.66 424.88,285.66" fill="#00ff00"/><polygon points="437.86,284.61 440.62,279.68 435.11,279.68" fill="#00ff00"/><polygon points="448.09,278.41 450.85,273.48 445.34,273.48" fill="#00ff00"/><polygon points="458.32,272.2 461.08,267.27 455.57,267.27" fill="#00ff00"/><polygon points="468.55,266.41 471.3,261.48 465.79,261.48" fill="#00ff00"/><polygon points="478.78,260.82 481.53,255.89 476.02,255.89" fill="#00ff00"/><polygon points="489.01,255.44 491.76,250.51 486.25,250.51" fill="#00ff00"/><polygon points="499.24,250.06 501.99,245.13 496.48,245.13" fill="#00ff00"/><polygon points="509.47,245.09 512.22,240.16 506.71,240.16" fill="#00ff00"/><polygon points="519.7,240.13 522.45,235.2 516.94,235.2" fill="#00ff00"/><polygon points="529.92,235.36 532.68,230.43 527.17,230.43" fill="#00ff00"/>
<rect x="448.2" y="206.9" width="50.8" height="33.1" fill="#000"/>
<rect x="446.2" y="204.9" width="50.8" height="33.1" fill="#fff" stroke="#9a9a9a" stroke-width="0.5"/>
<path d="M447 211H463.1" stroke="#000000" stroke-width="1.4"/>
<rect x="453.05" y="209" width="4" height="4" fill="#000000"/>
<text x="465.5" y="214" font-size="8.6" font-weight="bold">Layer-1</text>
<path d="M447 222H463.1" stroke="#ff0000" stroke-width="1.4"/>
<polygon points="455.05,219.1 457.81,224.03 452.3,224.03" fill="#ff0000"/>
<text x="465.5" y="225" font-size="8.6" font-weight="bold">Layer-2</text>
<path d="M447 232.8H463.1" stroke="#00ff00" stroke-width="1.4"/>
<polygon points="455.05,235.7 457.81,230.77 452.3,230.77" fill="#00ff00"/>
<text x="465.5" y="235.8" font-size="8.6" font-weight="bold">Layer-3</text>
<text x="316.2" y="195" font-size="13" font-weight="bold" fill="#000" text-anchor="middle">(d)</text>
<text x="485" y="332.9" font-size="12.5" font-weight="bold" fill="#ff0000" text-anchor="start">HNG-2</text>
<polygon points="10.4,28.6 21.5,20.7 51.13,23.5 40.4,30.77" fill="#000000"/>
<polygon points="40.4,30.77 51.13,23.5 66.34,24.94 55.8,31.88" fill="#8a0c0c"/>
<polygon points="55.8,31.88 66.34,24.94 74.14,25.67 63.7,32.45" fill="#0c9a0c"/>
<polygon points="63.7,32.45 74.14,25.67 77.6,26 67.2,32.7" fill="#3b3bdc"/>
<path d="M64.45 31.96L67.94 32.22" stroke="#fff" stroke-width="0.7" stroke-opacity="0.9" fill="none"/>
<path d="M65.94 31L69.43 31.26" stroke="#fff" stroke-width="0.7" stroke-opacity="0.9" fill="none"/>
<path d="M67.43 30.03L70.91 30.31" stroke="#fff" stroke-width="0.7" stroke-opacity="0.9" fill="none"/>
<path d="M68.92 29.06L72.4 29.35" stroke="#fff" stroke-width="0.7" stroke-opacity="0.9" fill="none"/>
<path d="M70.41 28.09L73.89 28.39" stroke="#fff" stroke-width="0.7" stroke-opacity="0.9" fill="none"/>
<path d="M71.91 27.12L75.37 27.44" stroke="#fff" stroke-width="0.7" stroke-opacity="0.9" fill="none"/>
<path d="M73.4 26.16L76.86 26.48" stroke="#fff" stroke-width="0.7" stroke-opacity="0.9" fill="none"/>
<path d="M15.95 24.65L72.4 29.35" stroke="#e6e6e6" stroke-width="0.6" stroke-opacity="0.9" fill="none"/>
<path d="M40.4 30.77L51.13 23.5" stroke="#e6e6e6" stroke-width="0.6" stroke-opacity="0.9" fill="none"/>
<path d="M55.8 31.88L66.34 24.94" stroke="#e6e6e6" stroke-width="0.6" stroke-opacity="0.9" fill="none"/>
<path d="M63.7 32.45L74.14 25.67" stroke="#e6e6e6" stroke-width="0.6" stroke-opacity="0.9" fill="none"/>
<polygon points="67.2,32.7 77.6,26 77.6,151 67.2,158" fill="#ecebff"/>
<polygon points="67.2,33.17 77.6,26.47 77.6,28.42 67.2,35.13" fill="#4a4ade"/>
<polygon points="67.2,37.09 77.6,30.38 77.6,32.33 67.2,39.04" fill="#4a4ade"/>
<polygon points="67.2,41 77.6,34.28 77.6,36.23 67.2,42.96" fill="#4a4ade"/>
<polygon points="67.2,44.92 77.6,38.19 77.6,40.14 67.2,46.87" fill="#4a4ade"/>
<polygon points="67.2,48.83 77.6,42.09 77.6,44.05 67.2,50.79" fill="#4a4ade"/>
<polygon points="67.2,52.75 77.6,46 77.6,47.95 67.2,54.71" fill="#4a4ade"/>
<polygon points="67.2,56.66 77.6,49.91 77.6,51.86 67.2,58.62" fill="#4a4ade"/>
<polygon points="67.2,60.58 77.6,53.81 77.6,55.77 67.2,62.54" fill="#4a4ade"/>
<polygon points="67.2,64.49 77.6,57.72 77.6,59.67 67.2,66.45" fill="#4a4ade"/>
<polygon points="67.2,68.41 77.6,61.62 77.6,63.58 67.2,70.37" fill="#4a4ade"/>
<polygon points="67.2,72.33 77.6,65.53 77.6,67.48 67.2,74.28" fill="#4a4ade"/>
<polygon points="67.2,76.24 77.6,69.44 77.6,71.39 67.2,78.2" fill="#4a4ade"/>
<polygon points="67.2,80.16 77.6,73.34 77.6,75.3 67.2,82.12" fill="#4a4ade"/>
<polygon points="67.2,84.07 77.6,77.25 77.6,79.2 67.2,86.03" fill="#4a4ade"/>
<polygon points="67.2,87.99 77.6,81.16 77.6,83.11 67.2,89.95" fill="#4a4ade"/>
<polygon points="67.2,91.9 77.6,85.06 77.6,87.02 67.2,93.86" fill="#4a4ade"/>
<polygon points="67.2,95.82 77.6,88.97 77.6,90.92 67.2,97.78" fill="#4a4ade"/>
<polygon points="67.2,99.74 77.6,92.88 77.6,94.83 67.2,101.69" fill="#4a4ade"/>
<polygon points="67.2,103.65 77.6,96.78 77.6,98.73 67.2,105.61" fill="#4a4ade"/>
<polygon points="67.2,107.57 77.6,100.69 77.6,102.64 67.2,109.52" fill="#4a4ade"/>
<polygon points="67.2,111.48 77.6,104.59 77.6,106.55 67.2,113.44" fill="#4a4ade"/>
<polygon points="67.2,115.4 77.6,108.5 77.6,110.45 67.2,117.36" fill="#4a4ade"/>
<polygon points="67.2,119.31 77.6,112.41 77.6,114.36 67.2,121.27" fill="#4a4ade"/>
<polygon points="67.2,123.23 77.6,116.31 77.6,118.27 67.2,125.19" fill="#4a4ade"/>
<polygon points="67.2,127.14 77.6,120.22 77.6,122.17 67.2,129.1" fill="#4a4ade"/>
<polygon points="67.2,131.06 77.6,124.12 77.6,126.08 67.2,133.02" fill="#4a4ade"/>
<polygon points="67.2,134.98 77.6,128.03 77.6,129.98 67.2,136.93" fill="#4a4ade"/>
<polygon points="67.2,138.89 77.6,131.94 77.6,133.89 67.2,140.85" fill="#4a4ade"/>
<polygon points="67.2,142.81 77.6,135.84 77.6,137.8 67.2,144.77" fill="#4a4ade"/>
<polygon points="67.2,146.72 77.6,139.75 77.6,141.7 67.2,148.68" fill="#4a4ade"/>
<polygon points="67.2,150.64 77.6,143.66 77.6,145.61 67.2,152.6" fill="#4a4ade"/>
<polygon points="67.2,154.55 77.6,147.56 77.6,149.52 67.2,156.51" fill="#4a4ade"/>
<polygon points="10.4,28.6 40.4,30.77 40.31,156.21 10.2,154.2" fill="#000000"/>
<path d="M10.35 60L40.38 62.13" stroke="#e6e6e6" stroke-width="0.7" stroke-opacity="0.9" fill="none"/>
<path d="M10.3 91.4L40.35 93.49" stroke="#e6e6e6" stroke-width="0.7" stroke-opacity="0.9" fill="none"/>
<path d="M10.25 122.8L40.33 124.85" stroke="#e6e6e6" stroke-width="0.7" stroke-opacity="0.9" fill="none"/>
<polygon points="40.4,30.77 55.8,31.88 55.76,157.24 40.31,156.21" fill="#e00b0b"/>
<path d="M40.39 46.45L55.79 47.55" stroke="#e6e6e6" stroke-width="0.7" stroke-opacity="0.9" fill="none"/>
<path d="M40.38 62.13L55.79 63.22" stroke="#e6e6e6" stroke-width="0.7" stroke-opacity="0.9" fill="none"/>
<path d="M40.36 77.81L55.78 78.89" stroke="#e6e6e6" stroke-width="0.7" stroke-opacity="0.9" fill="none"/>
<path d="M40.35 93.49L55.78 94.56" stroke="#e6e6e6" stroke-width="0.7" stroke-opacity="0.9" fill="none"/>
<path d="M40.34 109.17L55.77 110.23" stroke="#e6e6e6" stroke-width="0.7" stroke-opacity="0.9" fill="none"/>
<path d="M40.33 124.85L55.77 125.9" stroke="#e6e6e6" stroke-width="0.7" stroke-opacity="0.9" fill="none"/>
<path d="M40.32 140.53L55.76 141.57" stroke="#e6e6e6" stroke-width="0.7" stroke-opacity="0.9" fill="none"/>
<polygon points="55.8,31.88 63.7,32.45 63.69,157.77 55.76,157.24" fill="#14dc14"/>
<path d="M55.8 39.71L63.7 40.28" stroke="#e6e6e6" stroke-width="0.7" stroke-opacity="0.9" fill="none"/>
<path d="M55.79 47.55L63.7 48.11" stroke="#e6e6e6" stroke-width="0.7" stroke-opacity="0.9" fill="none"/>
<path d="M55.79 55.38L63.7 55.94" stroke="#e6e6e6" stroke-width="0.7" stroke-opacity="0.9" fill="none"/>
<path d="M55.79 63.22L63.7 63.78" stroke="#e6e6e6" stroke-width="0.7" stroke-opacity="0.9" fill="none"/>
<path d="M55.79 71.05L63.7 71.61" stroke="#e6e6e6" stroke-width="0.7" stroke-opacity="0.9" fill="none"/>
<path d="M55.78 78.89L63.7 79.44" stroke="#e6e6e6" stroke-width="0.7" stroke-opacity="0.9" fill="none"/>
<path d="M55.78 86.72L63.69 87.27" stroke="#e6e6e6" stroke-width="0.7" stroke-opacity="0.9" fill="none"/>
<path d="M55.78 94.56L63.69 95.11" stroke="#e6e6e6" stroke-width="0.7" stroke-opacity="0.9" fill="none"/>
<path d="M55.78 102.39L63.69 102.94" stroke="#e6e6e6" stroke-width="0.7" stroke-opacity="0.9" fill="none"/>
<path d="M55.77 110.23L63.69 110.77" stroke="#e6e6e6" stroke-width="0.7" stroke-opacity="0.9" fill="none"/>
<path d="M55.77 118.06L63.69 118.6" stroke="#e6e6e6" stroke-width="0.7" stroke-opacity="0.9" fill="none"/>
<path d="M55.77 125.9L63.69 126.44" stroke="#e6e6e6" stroke-width="0.7" stroke-opacity="0.9" fill="none"/>
<path d="M55.77 133.73L63.69 134.27" stroke="#e6e6e6" stroke-width="0.7" stroke-opacity="0.9" fill="none"/>
<path d="M55.76 141.57L63.69 142.1" stroke="#e6e6e6" stroke-width="0.7" stroke-opacity="0.9" fill="none"/>
<path d="M55.76 149.4L63.69 149.93" stroke="#e6e6e6" stroke-width="0.7" stroke-opacity="0.9" fill="none"/>
<polygon points="63.7,32.45 67.2,32.7 67.2,158 63.69,157.77" fill="#1414f0"/>
<polygon points="63.7,32.45 67.2,32.7 67.2,158 63.69,157.77" fill="#e8e8ff"/>
<polygon points="63.84,32.77 67.2,33.01 67.2,35.83 63.84,35.59" fill="#1414f0"/>
<polygon points="63.84,36.69 67.2,36.93 67.2,39.75 63.84,39.51" fill="#1414f0"/>
<polygon points="63.84,40.6 67.2,40.84 67.2,43.66 63.84,43.42" fill="#1414f0"/>
<polygon points="63.84,44.52 67.2,44.76 67.2,47.58 63.84,47.34" fill="#1414f0"/>
<polygon points="63.84,48.44 67.2,48.68 67.2,51.5 63.84,51.26" fill="#1414f0"/>
<polygon points="63.84,52.35 67.2,52.59 67.2,55.41 63.84,55.17" fill="#1414f0"/>
<polygon points="63.84,56.27 67.2,56.51 67.2,59.33 63.84,59.09" fill="#1414f0"/>
<polygon points="63.84,60.18 67.2,60.42 67.2,63.24 63.84,63" fill="#1414f0"/>
<polygon points="63.84,64.1 67.2,64.34 67.2,67.16 63.84,66.92" fill="#1414f0"/>
<polygon points="63.84,68.02 67.2,68.25 67.2,71.07 63.84,70.84" fill="#1414f0"/>
<polygon points="63.84,71.93 67.2,72.17 67.2,74.99 63.84,74.75" fill="#1414f0"/>
<polygon points="63.84,75.85 67.2,76.09 67.2,78.9 63.84,78.67" fill="#1414f0"/>
<polygon points="63.84,79.76 67.2,80 67.2,82.82 63.84,82.58" fill="#1414f0"/>
<polygon points="63.84,83.68 67.2,83.92 67.2,86.74 63.83,86.5" fill="#1414f0"/>
<polygon points="63.83,87.6 67.2,87.83 67.2,90.65 63.83,90.42" fill="#1414f0"/>
<polygon points="63.83,91.51 67.2,91.75 67.2,94.57 63.83,94.33" fill="#1414f0"/>
<polygon points="63.83,95.43 67.2,95.66 67.2,98.48 63.83,98.25" fill="#1414f0"/>
<polygon points="63.83,99.35 67.2,99.58 67.2,102.4 63.83,102.17" fill="#1414f0"/>
<polygon points="63.83,103.26 67.2,103.49 67.2,106.31 63.83,106.08" fill="#1414f0"/>
<polygon points="63.83,107.18 67.2,107.41 67.2,110.23 63.83,110" fill="#1414f0"/>
<polygon points="63.83,111.09 67.2,111.33 67.2,114.15 63.83,113.91" fill="#1414f0"/>
<polygon points="63.83,115.01 67.2,115.24 67.2,118.06 63.83,117.83" fill="#1414f0"/>
<polygon points="63.83,118.93 67.2,119.16 67.2,121.98 63.83,121.75" fill="#1414f0"/>
<polygon points="63.83,122.84 67.2,123.07 67.2,125.89 63.83,125.66" fill="#1414f0"/>
<polygon points="63.83,126.76 67.2,126.99 67.2,129.81 63.83,129.58" fill="#1414f0"/>
<polygon points="63.83,130.68 67.2,130.9 67.2,133.72 63.83,133.49" fill="#1414f0"/>
<polygon points="63.83,134.59 67.2,134.82 67.2,137.64 63.83,137.41" fill="#1414f0"/>
<polygon points="63.83,138.51 67.2,138.74 67.2,141.55 63.83,141.33" fill="#1414f0"/>
<polygon points="63.83,142.42 67.2,142.65 67.2,145.47 63.83,145.24" fill="#1414f0"/>
<polygon points="63.83,146.34 67.2,146.57 67.2,149.39 63.83,149.16" fill="#1414f0"/>
<polygon points="63.83,150.26 67.2,150.48 67.2,153.3 63.83,153.08" fill="#1414f0"/>
<polygon points="63.83,154.17 67.2,154.4 67.2,157.22 63.83,156.99" fill="#1414f0"/>
<path d="M40.4 30.77L40.31 156.21" stroke="#e6e6e6" stroke-width="0.7" stroke-opacity="0.9" fill="none"/>
<path d="M55.8 31.88L55.76 157.24" stroke="#e6e6e6" stroke-width="0.7" stroke-opacity="0.9" fill="none"/>
<path d="M63.7 32.45L63.69 157.77" stroke="#e6e6e6" stroke-width="0.7" stroke-opacity="0.9" fill="none"/>
<path d="M10.4 28.6L67.2 32.7" stroke="#e6e6e6" stroke-width="0.5" stroke-opacity="0.8" fill="none"/>
<path d="M67.2 32.7L67.2 158" stroke="#e6e6e6" stroke-width="0.5" stroke-opacity="0.8" fill="none"/>
<path transform="rotate(3.83 10.6 154.6)" d="M10.6 154.6 q0 1.6 1.2 1.6 H24.4 q0.8 0 0.8 1.28 q0 -1.28 0.8 -1.28 H38.6 q1.2 0 1.2 -1.6" fill="none" stroke="#000" stroke-width="0.55"/>
<path transform="rotate(3.83 41 156.6)" d="M41 156.6 q0 1.6 1.2 1.6 H47.3 q0.8 0 0.8 1.28 q0 -1.28 0.8 -1.28 H54 q1.2 0 1.2 -1.6" fill="none" stroke="#ff0000" stroke-width="0.55"/>
<path transform="rotate(3.83 56.2 157.6)" d="M56.2 157.6 q0 1.6 1.2 1.6 H58.7 q0.8 0 0.8 1.28 q0 -1.28 0.8 -1.28 H61.6 q1.2 0 1.2 -1.6" fill="none" stroke="#00a550" stroke-width="0.55"/>
<path transform="rotate(3.83 63.6 158.2)" d="M63.6 158.2 q0 1.6 1.2 1.6 H64.6 q0.8 0 0.8 1.28 q0 -1.28 0.8 -1.28 H66 q1.2 0 1.2 -1.6" fill="none" stroke="#0000ff" stroke-width="0.55"/>
<text x="22" y="166.5" font-size="9.2" font-weight="bold" fill="#000" text-anchor="middle">1</text>
<text x="45.8" y="168.9" font-size="9.4" font-weight="bold" fill="#ff0000" text-anchor="middle">2</text>
<text x="57.1" y="168.9" font-size="9.4" font-weight="bold" fill="#00a550" text-anchor="middle">3</text>
<text x="64.9" y="169" font-size="9.4" font-weight="bold" fill="#0000ff" text-anchor="middle">4</text>
<path d="M40.3 199.2L40.3 183.6" stroke="#4472c4" stroke-width="2.4"/>
<polygon points="40.3,177.6 44,184.6 36.6,184.6" fill="#4472c4"/>
<path d="M40.3 199.2L54.22 200.32" stroke="#4472c4" stroke-width="2.4"/>
<polygon points="60.2,200.8 52.93,203.93 53.52,196.55" fill="#4472c4"/>
<path d="M40.3 199.2L28.09 206.82" stroke="#4472c4" stroke-width="2.4"/>
<polygon points="23,210 26.98,203.15 30.9,209.43" fill="#4472c4"/>
<circle cx="40.3" cy="199.2" r="3.4" fill="#0faa55"/>
<text x="48.2" y="185" font-size="10.8" font-weight="bold" fill="#000" text-anchor="middle">X</text>
<text x="59" y="196.8" font-size="10.8" font-weight="bold" fill="#000" text-anchor="middle">Z</text>
<text x="26" y="203" font-size="10.8" font-weight="bold" fill="#000" text-anchor="middle">Y</text>
<polygon points="8.9,226 20.2,218.5 38.15,220.15 26.98,227.33" fill="#000000"/>
<polygon points="26.98,227.33 38.15,220.15 56.32,221.83 45.28,228.67" fill="#8a0c0c"/>
<polygon points="45.28,228.67 56.32,221.83 75.6,223.6 64.7,230.1" fill="#0c9a0c"/>
<path d="M14.55 222.25L70.15 226.85" stroke="#e6e6e6" stroke-width="0.6" stroke-opacity="0.9" fill="none"/>
<path d="M26.98 227.33L38.15 220.15" stroke="#e6e6e6" stroke-width="0.6" stroke-opacity="0.9" fill="none"/>
<path d="M45.28 228.67L56.32 221.83" stroke="#e6e6e6" stroke-width="0.6" stroke-opacity="0.9" fill="none"/>
<polygon points="64.7,230.1 75.6,223.6 76.1,337.3 64.9,345.3" fill="#0f9a0f"/>
<path d="M64.73 249.3L75.68 242.55" stroke="#e6e6e6" stroke-width="0.6" stroke-opacity="0.9" fill="none"/>
<path d="M64.77 268.5L75.77 261.5" stroke="#e6e6e6" stroke-width="0.6" stroke-opacity="0.9" fill="none"/>
<path d="M64.8 287.7L75.85 280.45" stroke="#e6e6e6" stroke-width="0.6" stroke-opacity="0.9" fill="none"/>
<path d="M64.83 306.9L75.93 299.4" stroke="#e6e6e6" stroke-width="0.6" stroke-opacity="0.9" fill="none"/>
<path d="M64.87 326.1L76.02 318.35" stroke="#e6e6e6" stroke-width="0.6" stroke-opacity="0.9" fill="none"/>
<path d="M70.15 226.85L70.5 341.3" stroke="#e6e6e6" stroke-width="0.6" stroke-opacity="0.9" fill="none"/>
<polygon points="8.9,226 26.98,227.33 26.23,342.6 7.7,341.3" fill="#000000"/>
<path d="M8.7 245.22L26.85 246.54" stroke="#e6e6e6" stroke-width="0.7" stroke-opacity="0.9" fill="none"/>
<path d="M8.5 264.43L26.73 265.75" stroke="#e6e6e6" stroke-width="0.7" stroke-opacity="0.9" fill="none"/>
<path d="M8.3 283.65L26.61 284.96" stroke="#e6e6e6" stroke-width="0.7" stroke-opacity="0.9" fill="none"/>
<path d="M8.1 302.87L26.48 304.17" stroke="#e6e6e6" stroke-width="0.7" stroke-opacity="0.9" fill="none"/>
<path d="M7.9 322.08L26.36 323.38" stroke="#e6e6e6" stroke-width="0.7" stroke-opacity="0.9" fill="none"/>
<polygon points="26.98,227.33 45.28,228.67 44.99,343.91 26.23,342.6" fill="#e00b0b"/>
<path d="M26.85 246.54L45.23 247.88" stroke="#e6e6e6" stroke-width="0.7" stroke-opacity="0.9" fill="none"/>
<path d="M26.73 265.75L45.19 267.08" stroke="#e6e6e6" stroke-width="0.7" stroke-opacity="0.9" fill="none"/>
<path d="M26.61 284.96L45.14 286.29" stroke="#e6e6e6" stroke-width="0.7" stroke-opacity="0.9" fill="none"/>
<path d="M26.48 304.17L45.09 305.5" stroke="#e6e6e6" stroke-width="0.7" stroke-opacity="0.9" fill="none"/>
<path d="M26.36 323.38L45.04 324.7" stroke="#e6e6e6" stroke-width="0.7" stroke-opacity="0.9" fill="none"/>
<polygon points="45.28,228.67 64.7,230.1 64.9,345.3 44.99,343.91" fill="#14dc14"/>
<path d="M45.23 247.88L64.73 249.3" stroke="#e6e6e6" stroke-width="0.7" stroke-opacity="0.9" fill="none"/>
<path d="M45.19 267.08L64.77 268.5" stroke="#e6e6e6" stroke-width="0.7" stroke-opacity="0.9" fill="none"/>
<path d="M45.14 286.29L64.8 287.7" stroke="#e6e6e6" stroke-width="0.7" stroke-opacity="0.9" fill="none"/>
<path d="M45.09 305.5L64.83 306.9" stroke="#e6e6e6" stroke-width="0.7" stroke-opacity="0.9" fill="none"/>
<path d="M45.04 324.7L64.87 326.1" stroke="#e6e6e6" stroke-width="0.7" stroke-opacity="0.9" fill="none"/>
<path d="M26.98 227.33L26.23 342.6" stroke="#e6e6e6" stroke-width="0.7" stroke-opacity="0.9" fill="none"/>
<path d="M45.28 228.67L44.99 343.91" stroke="#e6e6e6" stroke-width="0.7" stroke-opacity="0.9" fill="none"/>
<path d="M8.9 226L64.7 230.1" stroke="#e6e6e6" stroke-width="0.5" stroke-opacity="0.8" fill="none"/>
<path d="M64.7 230.1L64.9 345.3" stroke="#e6e6e6" stroke-width="0.5" stroke-opacity="0.8" fill="none"/>
<path transform="rotate(3.83 8.2 342)" d="M8.2 342 q0 1.6 1.2 1.6 H16.3 q0.8 0 0.8 1.28 q0 -1.28 0.8 -1.28 H24.8 q1.2 0 1.2 -1.6" fill="none" stroke="#000" stroke-width="0.55"/>
<path transform="rotate(3.83 27.2 343.4)" d="M27.2 343.4 q0 1.6 1.2 1.6 H34.9 q0.8 0 0.8 1.28 q0 -1.28 0.8 -1.28 H43 q1.2 0 1.2 -1.6" fill="none" stroke="#ff0000" stroke-width="0.55"/>
<path transform="rotate(3.83 45.4 344.7)" d="M45.4 344.7 q0 1.6 1.2 1.6 H54.2 q0.8 0 0.8 1.28 q0 -1.28 0.8 -1.28 H63.4 q1.2 0 1.2 -1.6" fill="none" stroke="#00a550" stroke-width="0.55"/>
<text x="17" y="354.9" font-size="9" font-weight="bold" fill="#000" text-anchor="middle">1</text>
<text x="34.9" y="356.4" font-size="9" font-weight="bold" fill="#ff0000" text-anchor="middle">2</text>
<text x="53.7" y="357.4" font-size="9" font-weight="bold" fill="#00a550" text-anchor="middle">3</text>
<g clip-path="url(#cp1)">
<polygon points="118.1,14.9 125.2,10.5 167.7,14.1 159.6,18.2" fill="#1f9f86"/>
<g filter="url(#bl1)">
<ellipse cx="132" cy="13" rx="8" ry="3" fill="#128a5a"/><ellipse cx="150" cy="15.5" rx="7" ry="2.5" fill="#2a7ad8"/><ellipse cx="161" cy="16.5" rx="6" ry="2.5" fill="#3a3adc"/>
</g></g>
<path d="M141.22 16.74L148.87 12.51" stroke="#f4f4f4" stroke-width="0.6" stroke-opacity="1" fill="none"/>
<path d="M151.88 17.59L159.79 13.43" stroke="#f4f4f4" stroke-width="0.6" stroke-opacity="1" fill="none"/>
<path d="M121.65 12.7L163.65 16.15" stroke="#f4f4f4" stroke-width="0.5" stroke-opacity="0.8" fill="none"/>
<polygon points="159.6,18.2 167.7,14.1 167.7,99.3 159.6,105.3" fill="#eeeeff"/>
<polygon points="159.6,18.53 167.7,14.42 167.7,15.91 159.6,20.05" fill="#4242dc"/>
<polygon points="159.6,21.25 167.7,17.08 167.7,18.57 159.6,22.77" fill="#4242dc"/>
<polygon points="159.6,23.97 167.7,19.74 167.7,21.24 159.6,25.49" fill="#4242dc"/>
<polygon points="159.6,26.69 167.7,22.41 167.7,23.9 159.6,28.22" fill="#4242dc"/>
<polygon points="159.6,29.41 167.7,25.07 167.7,26.56 159.6,30.94" fill="#4242dc"/>
<polygon points="159.6,32.14 167.7,27.73 167.7,29.22 159.6,33.66" fill="#4242dc"/>
<polygon points="159.6,34.86 167.7,30.39 167.7,31.89 159.6,36.38" fill="#4242dc"/>
<polygon points="159.6,37.58 167.7,33.06 167.7,34.55 159.6,39.1" fill="#4242dc"/>
<polygon points="159.6,40.3 167.7,35.72 167.7,37.21 159.6,41.83" fill="#4242dc"/>
<polygon points="159.6,43.02 167.7,38.38 167.7,39.87 159.6,44.55" fill="#4242dc"/>
<polygon points="159.6,45.75 167.7,41.04 167.7,42.54 159.6,47.27" fill="#4242dc"/>
<polygon points="159.6,48.47 167.7,43.71 167.7,45.2 159.6,49.99" fill="#4242dc"/>
<polygon points="159.6,51.19 167.7,46.37 167.7,47.86 159.6,52.71" fill="#4242dc"/>
<polygon points="159.6,53.91 167.7,49.03 167.7,50.52 159.6,55.44" fill="#4242dc"/>
<polygon points="159.6,56.63 167.7,51.69 167.7,53.19 159.6,58.16" fill="#4242dc"/>
<polygon points="159.6,59.35 167.7,54.36 167.7,55.85 159.6,60.88" fill="#4242dc"/>
<polygon points="159.6,62.08 167.7,57.02 167.7,58.51 159.6,63.6" fill="#4242dc"/>
<polygon points="159.6,64.8 167.7,59.68 167.7,61.17 159.6,66.32" fill="#4242dc"/>
<polygon points="159.6,67.52 167.7,62.34 167.7,63.84 159.6,69.04" fill="#4242dc"/>
<polygon points="159.6,70.24 167.7,65.01 167.7,66.5 159.6,71.77" fill="#4242dc"/>
<polygon points="159.6,72.96 167.7,67.67 167.7,69.16 159.6,74.49" fill="#4242dc"/>
<polygon points="159.6,75.69 167.7,70.33 167.7,71.82 159.6,77.21" fill="#4242dc"/>
<polygon points="159.6,78.41 167.7,72.99 167.7,74.49 159.6,79.93" fill="#4242dc"/>
<polygon points="159.6,81.13 167.7,75.66 167.7,77.15 159.6,82.65" fill="#4242dc"/>
<polygon points="159.6,83.85 167.7,78.32 167.7,79.81 159.6,85.38" fill="#4242dc"/>
<polygon points="159.6,86.57 167.7,80.98 167.7,82.47 159.6,88.1" fill="#4242dc"/>
<polygon points="159.6,89.3 167.7,83.64 167.7,85.14 159.6,90.82" fill="#4242dc"/>
<polygon points="159.6,92.02 167.7,86.31 167.7,87.8 159.6,93.54" fill="#4242dc"/>
<polygon points="159.6,94.74 167.7,88.97 167.7,90.46 159.6,96.26" fill="#4242dc"/>
<polygon points="159.6,97.46 167.7,91.63 167.7,93.12 159.6,98.99" fill="#4242dc"/>
<polygon points="159.6,100.18 167.7,94.29 167.7,95.79 159.6,101.71" fill="#4242dc"/>
<polygon points="159.6,102.9 167.7,96.96 167.7,98.45 159.6,104.43" fill="#4242dc"/>
<g clip-path="url(#cp2)">
<polygon points="118.1,14.9 159.6,18.2 159.6,105.3 118.1,102" fill="#33d2c4"/>
<g filter="url(#bl1)">
<ellipse cx="127" cy="25" rx="11" ry="8" fill="#37dc4a"/><ellipse cx="124" cy="61" rx="9" ry="12" fill="#4ade3a"/><ellipse cx="126" cy="88" rx="9" ry="8" fill="#33d23e"/><ellipse cx="136" cy="74" rx="6" ry="5" fill="#2fd8a0"/><ellipse cx="137" cy="97" rx="6" ry="4" fill="#2fd070"/><ellipse cx="146" cy="86" rx="4" ry="10" fill="#35d878"/><ellipse cx="146" cy="50" rx="4" ry="6" fill="#30d0c0"/><ellipse cx="129" cy="35" rx="13" ry="5.4" fill="#7ee63a"/><ellipse cx="129" cy="35" rx="12" ry="4" fill="#e0ee2a"/><ellipse cx="128.8" cy="35.2" rx="9.2" ry="2" fill="#f2350f"/><ellipse cx="127.5" cy="35.2" rx="5.5" ry="1.2" fill="#e01208"/><ellipse cx="128" cy="59" rx="13" ry="5.6" fill="#86e63a" transform="rotate(42 128 59)"/><ellipse cx="128" cy="59" rx="11.5" ry="4" fill="#e6ec2c" transform="rotate(42 128 59)"/><ellipse cx="127.5" cy="58.5" rx="7.5" ry="2.2" fill="#f5a01c" transform="rotate(42 127.5 58.5)"/><ellipse cx="127.5" cy="58.5" rx="4" ry="1.2" fill="#f06a18" transform="rotate(42 127.5 58.5)"/><ellipse cx="120" cy="47" rx="2.5" ry="4" fill="#a8ea30"/><ellipse cx="147.5" cy="64" rx="4.6" ry="6.5" fill="#2348e6"/><ellipse cx="147" cy="62" rx="2.4" ry="3.5" fill="#1c22d8"/><ellipse cx="147" cy="27" rx="4.5" ry="7" fill="#2e9cf0"/><ellipse cx="140" cy="44" rx="3.5" ry="2" fill="#2e86f0"/><ellipse cx="131" cy="45" rx="3" ry="1.4" fill="#2e9cf0"/><ellipse cx="122" cy="78" rx="2.4" ry="2.6" fill="#2e8cf0"/><ellipse cx="134" cy="82" rx="2.6" ry="2" fill="#2e8cf0"/><ellipse cx="121" cy="95" rx="3" ry="2.4" fill="#2ea8f0"/><ellipse cx="136" cy="20" rx="5" ry="3" fill="#30c8e8"/><polygon points="151.88,17.59 159.6,18.2 159.6,105.3 151.88,104.69" fill="#2a3aea"/><ellipse cx="154" cy="80" rx="2.2" ry="14" fill="#2a78f0"/><ellipse cx="153.5" cy="30" rx="2" ry="8" fill="#3a8af2"/>
</g></g>
<polygon points="156.28,17.94 159.6,18.2 159.6,105.3 156.28,105.04" fill="#dcdcff"/>
<polygon points="156.68,18.24 159.33,18.45 159.33,20.14 156.68,19.93" fill="#2020e6"/>
<polygon points="156.68,20.96 159.33,21.17 159.33,22.86 156.68,22.65" fill="#2020e6"/>
<polygon points="156.68,23.68 159.33,23.89 159.33,25.58 156.68,25.37" fill="#2020e6"/>
<polygon points="156.68,26.41 159.33,26.62 159.33,28.3 156.68,28.09" fill="#2020e6"/>
<polygon points="156.68,29.13 159.33,29.34 159.33,31.03 156.68,30.81" fill="#2020e6"/>
<polygon points="156.68,31.85 159.33,32.06 159.33,33.75 156.68,33.54" fill="#2020e6"/>
<polygon points="156.68,34.57 159.33,34.78 159.33,36.47 156.68,36.26" fill="#2020e6"/>
<polygon points="156.68,37.29 159.33,37.5 159.33,39.19 156.68,38.98" fill="#2020e6"/>
<polygon points="156.68,40.01 159.33,40.23 159.33,41.91 156.68,41.7" fill="#2020e6"/>
<polygon points="156.68,42.74 159.33,42.95 159.33,44.64 156.68,44.42" fill="#2020e6"/>
<polygon points="156.68,45.46 159.33,45.67 159.33,47.36 156.68,47.15" fill="#2020e6"/>
<polygon points="156.68,48.18 159.33,48.39 159.33,50.08 156.68,49.87" fill="#2020e6"/>
<polygon points="156.68,50.9 159.33,51.11 159.33,52.8 156.68,52.59" fill="#2020e6"/>
<polygon points="156.68,53.62 159.33,53.84 159.33,55.52 156.68,55.31" fill="#2020e6"/>
<polygon points="156.68,56.35 159.33,56.56 159.33,58.24 156.68,58.03" fill="#2020e6"/>
<polygon points="156.68,59.07 159.33,59.28 159.33,60.97 156.68,60.76" fill="#2020e6"/>
<polygon points="156.68,61.79 159.33,62 159.33,63.69 156.68,63.48" fill="#2020e6"/>
<polygon points="156.68,64.51 159.33,64.72 159.33,66.41 156.68,66.2" fill="#2020e6"/>
<polygon points="156.68,67.23 159.33,67.44 159.33,69.13 156.68,68.92" fill="#2020e6"/>
<polygon points="156.68,69.96 159.33,70.17 159.33,71.85 156.68,71.64" fill="#2020e6"/>
<polygon points="156.68,72.68 159.33,72.89 159.33,74.58 156.68,74.36" fill="#2020e6"/>
<polygon points="156.68,75.4 159.33,75.61 159.33,77.3 156.68,77.09" fill="#2020e6"/>
<polygon points="156.68,78.12 159.33,78.33 159.33,80.02 156.68,79.81" fill="#2020e6"/>
<polygon points="156.68,80.84 159.33,81.05 159.33,82.74 156.68,82.53" fill="#2020e6"/>
<polygon points="156.68,83.56 159.33,83.78 159.33,85.46 156.68,85.25" fill="#2020e6"/>
<polygon points="156.68,86.29 159.33,86.5 159.33,88.19 156.68,87.97" fill="#2020e6"/>
<polygon points="156.68,89.01 159.33,89.22 159.33,90.91 156.68,90.7" fill="#2020e6"/>
<polygon points="156.68,91.73 159.33,91.94 159.33,93.63 156.68,93.42" fill="#2020e6"/>
<polygon points="156.68,94.45 159.33,94.66 159.33,96.35 156.68,96.14" fill="#2020e6"/>
<polygon points="156.68,97.17 159.33,97.39 159.33,99.07 156.68,98.86" fill="#2020e6"/>
<polygon points="156.68,99.9 159.33,100.11 159.33,101.79 156.68,101.58" fill="#2020e6"/>
<polygon points="156.68,102.62 159.33,102.83 159.33,104.52 156.68,104.31" fill="#2020e6"/>
<path d="M118.1 36.67L141.22 38.51" stroke="#f4f4f4" stroke-width="0.55" stroke-opacity="0.9" fill="none"/>
<path d="M118.1 58.45L141.22 60.29" stroke="#f4f4f4" stroke-width="0.55" stroke-opacity="0.9" fill="none"/>
<path d="M118.1 80.22L141.22 82.06" stroke="#f4f4f4" stroke-width="0.55" stroke-opacity="0.9" fill="none"/>
<path d="M141.22 27.63L151.88 28.47" stroke="#f4f4f4" stroke-width="0.55" stroke-opacity="0.9" fill="none"/>
<path d="M141.22 38.51L151.88 39.36" stroke="#f4f4f4" stroke-width="0.55" stroke-opacity="0.9" fill="none"/>
<path d="M141.22 49.4L151.88 50.25" stroke="#f4f4f4" stroke-width="0.55" stroke-opacity="0.9" fill="none"/>
<path d="M141.22 60.29L151.88 61.14" stroke="#f4f4f4" stroke-width="0.55" stroke-opacity="0.9" fill="none"/>
<path d="M141.22 71.18L151.88 72.02" stroke="#f4f4f4" stroke-width="0.55" stroke-opacity="0.9" fill="none"/>
<path d="M141.22 82.06L151.88 82.91" stroke="#f4f4f4" stroke-width="0.55" stroke-opacity="0.9" fill="none"/>
<path d="M141.22 92.95L151.88 93.8" stroke="#f4f4f4" stroke-width="0.55" stroke-opacity="0.9" fill="none"/>
<path d="M151.88 23.03L156.28 23.38" stroke="#f4f4f4" stroke-width="0.55" stroke-opacity="0.9" fill="none"/>
<path d="M151.88 28.47L156.28 28.82" stroke="#f4f4f4" stroke-width="0.55" stroke-opacity="0.9" fill="none"/>
<path d="M151.88 33.92L156.28 34.27" stroke="#f4f4f4" stroke-width="0.55" stroke-opacity="0.9" fill="none"/>
<path d="M151.88 39.36L156.28 39.71" stroke="#f4f4f4" stroke-width="0.55" stroke-opacity="0.9" fill="none"/>
<path d="M151.88 44.8L156.28 45.15" stroke="#f4f4f4" stroke-width="0.55" stroke-opacity="0.9" fill="none"/>
<path d="M151.88 50.25L156.28 50.6" stroke="#f4f4f4" stroke-width="0.55" stroke-opacity="0.9" fill="none"/>
<path d="M151.88 55.69L156.28 56.04" stroke="#f4f4f4" stroke-width="0.55" stroke-opacity="0.9" fill="none"/>
<path d="M151.88 61.14L156.28 61.49" stroke="#f4f4f4" stroke-width="0.55" stroke-opacity="0.9" fill="none"/>
<path d="M151.88 66.58L156.28 66.93" stroke="#f4f4f4" stroke-width="0.55" stroke-opacity="0.9" fill="none"/>
<path d="M151.88 72.02L156.28 72.37" stroke="#f4f4f4" stroke-width="0.55" stroke-opacity="0.9" fill="none"/>
<path d="M151.88 77.47L156.28 77.82" stroke="#f4f4f4" stroke-width="0.55" stroke-opacity="0.9" fill="none"/>
<path d="M151.88 82.91L156.28 83.26" stroke="#f4f4f4" stroke-width="0.55" stroke-opacity="0.9" fill="none"/>
<path d="M151.88 88.35L156.28 88.7" stroke="#f4f4f4" stroke-width="0.55" stroke-opacity="0.9" fill="none"/>
<path d="M151.88 93.8L156.28 94.15" stroke="#f4f4f4" stroke-width="0.55" stroke-opacity="0.9" fill="none"/>
<path d="M151.88 99.24L156.28 99.59" stroke="#f4f4f4" stroke-width="0.55" stroke-opacity="0.9" fill="none"/>
<path d="M141.22 16.74L141.22 103.84" stroke="#f4f4f4" stroke-width="0.65" stroke-opacity="0.9" fill="none"/>
<path d="M151.88 17.59L151.88 104.69" stroke="#f4f4f4" stroke-width="0.65" stroke-opacity="0.9" fill="none"/>
<path d="M156.28 17.94L156.28 105.04" stroke="#f4f4f4" stroke-width="0.65" stroke-opacity="0.9" fill="none"/>
<rect x="170.4" y="14.6" width="7.8" height="3.45" fill="#ee1c12"/>
<rect x="170.4" y="18" width="7.8" height="6.38" fill="#f4581a"/>
<rect x="170.4" y="24.33" width="7.8" height="6.38" fill="#f59a18"/>
<rect x="170.4" y="30.66" width="7.8" height="6.38" fill="#f4ee1a"/>
<rect x="170.4" y="36.99" width="7.8" height="6.38" fill="#b6ee1c"/>
<rect x="170.4" y="43.32" width="7.8" height="6.38" fill="#74e626"/>
<rect x="170.4" y="49.65" width="7.8" height="6.38" fill="#36d636"/>
<rect x="170.4" y="55.98" width="7.8" height="6.38" fill="#22ca52"/>
<rect x="170.4" y="62.31" width="7.8" height="6.38" fill="#24d694"/>
<rect x="170.4" y="68.64" width="7.8" height="6.38" fill="#26dccc"/>
<rect x="170.4" y="74.97" width="7.8" height="6.38" fill="#28b4f0"/>
<rect x="170.4" y="81.3" width="7.8" height="6.38" fill="#2a82f0"/>
<rect x="170.4" y="87.63" width="7.8" height="6.38" fill="#2646ee"/>
<rect x="170.4" y="93.96" width="7.8" height="2.39" fill="#1c1ce0"/>
<g font-size="5" font-weight="normal" fill="#0a0a0a" stroke="#0a0a0a" stroke-width="0.2">
<text x="182" y="20.1" transform="rotate(0.03 182 20.1)">0.013</text>
<text x="182" y="26.43" transform="rotate(0.03 182 26.43)">0.012</text>
<text x="182" y="32.76" transform="rotate(0.03 182 32.76)">0.01</text>
<text x="182" y="39.09" transform="rotate(0.03 182 39.09)">0.009</text>
<text x="182" y="45.42" transform="rotate(0.03 182 45.42)">0.008</text>
<text x="182" y="51.75" transform="rotate(0.03 182 51.75)">0.007</text>
<text x="182" y="58.08" transform="rotate(0.03 182 58.08)">0.006</text>
<text x="182" y="64.41" transform="rotate(0.03 182 64.41)">0.005</text>
<text x="182" y="70.74" transform="rotate(0.03 182 70.74)">0.004</text>
<text x="182" y="77.07" transform="rotate(0.03 182 77.07)">0.003</text>
<text x="182" y="83.4" transform="rotate(0.03 182 83.4)">0.002</text>
<text x="182" y="89.73" transform="rotate(0.03 182 89.73)">0.001</text>
<text x="182" y="96.06" transform="rotate(0.03 182 96.06)">0.0005</text>
</g>
<g clip-path="url(#cp3)">
<polygon points="348.5,14.3 356.4,9.4 398.1,13.2 389.9,17.2" fill="#1d73ad"/>
<g filter="url(#bl1)">
<ellipse cx="380" cy="14" rx="5" ry="3" fill="#e0a028"/><ellipse cx="388" cy="14.5" rx="5" ry="2.5" fill="#b01c10"/><ellipse cx="395" cy="15" rx="4" ry="2.5" fill="#e04a28"/>
</g></g>
<path d="M371.39 15.9L379.46 11.5" stroke="#f4f4f4" stroke-width="0.6" stroke-opacity="1" fill="none"/>
<path d="M382.2 16.66L390.34 12.49" stroke="#f4f4f4" stroke-width="0.6" stroke-opacity="1" fill="none"/>
<polygon points="389.9,17.2 398.1,13.2 397.7,98.8 389.9,103.8" fill="#ffe6e2"/>
<polygon points="389.9,17.52 398.1,13.52 398.09,15.02 389.9,19.04" fill="#e23a30"/>
<polygon points="389.9,20.23 398.09,16.2 398.08,17.69 389.9,21.75" fill="#e23a30"/>
<polygon points="389.9,22.94 398.07,18.87 398.07,20.37 389.9,24.45" fill="#e23a30"/>
<polygon points="389.9,25.64 398.06,21.55 398.05,23.04 389.9,27.16" fill="#e23a30"/>
<polygon points="389.9,28.35 398.05,24.22 398.04,25.72 389.9,29.87" fill="#e23a30"/>
<polygon points="389.9,31.06 398.04,26.9 398.03,28.39 389.9,32.57" fill="#e23a30"/>
<polygon points="389.9,33.76 398.02,29.57 398.02,31.07 389.9,35.28" fill="#e23a30"/>
<polygon points="389.9,36.47 398.01,32.25 398,33.74 389.9,37.98" fill="#e23a30"/>
<polygon points="389.9,39.17 398,34.92 397.99,36.42 389.9,40.69" fill="#e23a30"/>
<polygon points="389.9,41.88 397.99,37.6 397.98,39.09 389.9,43.4" fill="#e23a30"/>
<polygon points="389.9,44.59 397.97,40.27 397.97,41.77 389.9,46.1" fill="#e23a30"/>
<polygon points="389.9,47.29 397.96,42.95 397.95,44.44 389.9,48.81" fill="#e23a30"/>
<polygon points="389.9,50 397.95,45.62 397.94,47.12 389.9,51.52" fill="#e23a30"/>
<polygon points="389.9,52.71 397.94,48.3 397.93,49.79 389.9,54.22" fill="#e23a30"/>
<polygon points="389.9,55.41 397.92,50.97 397.92,52.47 389.9,56.93" fill="#e23a30"/>
<polygon points="389.9,58.12 397.91,53.65 397.9,55.14 389.9,59.63" fill="#e23a30"/>
<polygon points="389.9,60.82 397.9,56.32 397.89,57.82 389.9,62.34" fill="#e23a30"/>
<polygon points="389.9,63.53 397.89,59 397.88,60.49 389.9,65.05" fill="#e23a30"/>
<polygon points="389.9,66.24 397.87,61.67 397.87,63.17 389.9,67.75" fill="#e23a30"/>
<polygon points="389.9,68.94 397.86,64.35 397.85,65.84 389.9,70.46" fill="#e23a30"/>
<polygon points="389.9,71.65 397.85,67.02 397.84,68.52 389.9,73.17" fill="#e23a30"/>
<polygon points="389.9,74.36 397.84,69.7 397.83,71.19 389.9,75.87" fill="#e23a30"/>
<polygon points="389.9,77.06 397.82,72.37 397.82,73.87 389.9,78.58" fill="#e23a30"/>
<polygon points="389.9,79.77 397.81,75.05 397.8,76.54 389.9,81.28" fill="#e23a30"/>
<polygon points="389.9,82.47 397.8,77.72 397.79,79.22 389.9,83.99" fill="#e23a30"/>
<polygon points="389.9,85.18 397.79,80.4 397.78,81.89 389.9,86.7" fill="#e23a30"/>
<polygon points="389.9,87.89 397.77,83.07 397.77,84.57 389.9,89.4" fill="#e23a30"/>
<polygon points="389.9,90.59 397.76,85.75 397.75,87.24 389.9,92.11" fill="#e23a30"/>
<polygon points="389.9,93.3 397.75,88.42 397.74,89.92 389.9,94.82" fill="#e23a30"/>
<polygon points="389.9,96.01 397.74,91.1 397.73,92.59 389.9,97.52" fill="#e23a30"/>
<polygon points="389.9,98.71 397.72,93.77 397.72,95.27 389.9,100.23" fill="#e23a30"/>
<polygon points="389.9,101.42 397.71,96.45 397.7,97.94 389.9,102.93" fill="#e23a30"/>
<g clip-path="url(#cp4)">
<polygon points="348.5,14.3 389.9,17.2 389.9,103.8 348.5,99.7" fill="#2a9fe2"/>
<g filter="url(#bl0)">
<polygon points="367.8,12 367.2,21 366.2,30 366.2,40 365.6,48 364.2,55 363,62 362,68 361.6,73 363,78 366.5,83 370.8,88 374.5,92 377.6,96 378.6,100 379,106 395,106 395,12" fill="#35d4d0"/><polygon points="369.54,12 369,21 368.1,30 368.1,40 367.56,48 366.3,55 365.22,62 364.32,68 363.96,73 365.22,78 368.37,83 372.24,88 375.57,92 378.36,96 379.26,100 379.62,106 395,106 395,12" fill="#3fdc6a"/><polygon points="373.02,12 372.6,21 371.9,30 371.9,40 371.48,48 370.5,55 369.66,62 368.96,68 368.68,73 369.66,78 372.11,83 375.12,88 377.71,92 379.88,96 380.58,100 380.86,106 395,106 395,12" fill="#9be42c"/><polygon points="375.8,12 375.48,21 374.94,30 374.94,40 374.62,48 373.86,55 373.21,62 372.67,68 372.46,73 373.21,78 375.1,83 377.42,88 379.42,92 381.1,96 381.64,100 381.85,106 395,106 395,12" fill="#ece42a"/><polygon points="379.28,12 378.63,21 376.01,30 378.73,40 378.54,48 378.06,55 377.65,62 377.31,68 377.18,73 377.65,78 378.84,83 380.3,88 381.56,92 382.62,96 382.96,100 383.09,106 395,106 395,12" fill="#f2a022"/><polygon points="382.76,12 382.58,21 377.37,30 382.54,40 382.46,48 382.26,55 382.09,62 381.95,68 381.9,73 382.09,78 382.58,83 383.18,88 383.7,92 384.14,96 384.28,100 384.33,106 395,106 395,12" fill="#ee5a1c"/><polygon points="385.2,12 385.2,21 385.2,30 385.2,40 385.2,48 385.2,55 385.2,62 385.2,68 385.2,73 385.2,78 385.2,83 385.2,88 385.2,92 385.2,96 385.2,100 385.2,106 395,106 395,12" fill="#e62a1c"/><ellipse cx="384.5" cy="47" rx="1.6" ry="9" fill="#f08a20"/><ellipse cx="348.5" cy="36" rx="3.4" ry="9" fill="#3fd9c0"/><ellipse cx="348.2" cy="36" rx="2" ry="6" fill="#78e03a"/><ellipse cx="348" cy="36" rx="1.1" ry="3.5" fill="#f0e028"/><path d="M346 98.6 L392 103.0" stroke="#e8e02a" stroke-width="1.6" fill="none"/><path d="M346 99.9 L392 104.4" stroke="#ee3a1a" stroke-width="2.0" fill="none"/>
</g></g>
<polygon points="387,17 389.9,17.2 389.9,103.8 387,103.51" fill="#f9b4aa"/>
<polygon points="387.35,17.29 389.67,17.45 389.67,19.13 387.35,18.97" fill="#e8281c"/>
<polygon points="387.35,20 389.67,20.16 389.67,21.84 387.35,21.67" fill="#e8281c"/>
<polygon points="387.35,22.7 389.67,22.87 389.67,24.54 387.35,24.38" fill="#e8281c"/>
<polygon points="387.35,25.4 389.67,25.57 389.67,27.25 387.35,27.08" fill="#e8281c"/>
<polygon points="387.35,28.11 389.67,28.28 389.67,29.96 387.35,29.78" fill="#e8281c"/>
<polygon points="387.35,30.81 389.67,30.98 389.67,32.66 387.35,32.49" fill="#e8281c"/>
<polygon points="387.35,33.52 389.67,33.69 389.67,35.37 387.35,35.19" fill="#e8281c"/>
<polygon points="387.35,36.22 389.67,36.4 389.67,38.07 387.35,37.9" fill="#e8281c"/>
<polygon points="387.35,38.92 389.67,39.1 389.67,40.78 387.35,40.6" fill="#e8281c"/>
<polygon points="387.35,41.63 389.67,41.81 389.67,43.49 387.35,43.3" fill="#e8281c"/>
<polygon points="387.35,44.33 389.67,44.51 389.67,46.19 387.35,46.01" fill="#e8281c"/>
<polygon points="387.35,47.04 389.67,47.22 389.67,48.9 387.35,48.71" fill="#e8281c"/>
<polygon points="387.35,49.74 389.67,49.93 389.67,51.6 387.35,51.42" fill="#e8281c"/>
<polygon points="387.35,52.44 389.67,52.63 389.67,54.31 387.35,54.12" fill="#e8281c"/>
<polygon points="387.35,55.15 389.67,55.34 389.67,57.02 387.35,56.82" fill="#e8281c"/>
<polygon points="387.35,57.85 389.67,58.04 389.67,59.72 387.35,59.53" fill="#e8281c"/>
<polygon points="387.35,60.55 389.67,60.75 389.67,62.43 387.35,62.23" fill="#e8281c"/>
<polygon points="387.35,63.26 389.67,63.46 389.67,65.13 387.35,64.94" fill="#e8281c"/>
<polygon points="387.35,65.96 389.67,66.16 389.67,67.84 387.35,67.64" fill="#e8281c"/>
<polygon points="387.35,68.67 389.67,68.87 389.67,70.55 387.35,70.34" fill="#e8281c"/>
<polygon points="387.35,71.37 389.67,71.58 389.67,73.25 387.35,73.05" fill="#e8281c"/>
<polygon points="387.35,74.07 389.67,74.28 389.67,75.96 387.35,75.75" fill="#e8281c"/>
<polygon points="387.35,76.78 389.67,76.99 389.67,78.66 387.35,78.45" fill="#e8281c"/>
<polygon points="387.35,79.48 389.67,79.69 389.67,81.37 387.35,81.16" fill="#e8281c"/>
<polygon points="387.35,82.19 389.67,82.4 389.67,84.08 387.35,83.86" fill="#e8281c"/>
<polygon points="387.35,84.89 389.67,85.11 389.67,86.78 387.35,86.57" fill="#e8281c"/>
<polygon points="387.35,87.59 389.67,87.81 389.67,89.49 387.35,89.27" fill="#e8281c"/>
<polygon points="387.35,90.3 389.67,90.52 389.67,92.2 387.35,91.97" fill="#e8281c"/>
<polygon points="387.35,93 389.67,93.22 389.67,94.9 387.35,94.68" fill="#e8281c"/>
<polygon points="387.35,95.71 389.67,95.93 389.67,97.61 387.35,97.38" fill="#e8281c"/>
<polygon points="387.35,98.41 389.67,98.64 389.67,100.31 387.35,100.09" fill="#e8281c"/>
<polygon points="387.35,101.11 389.67,101.34 389.67,103.02 387.35,102.79" fill="#e8281c"/>
<path d="M348.5 35.65L371.39 37.42" stroke="#f4f4f4" stroke-width="0.55" stroke-opacity="0.9" fill="none"/>
<path d="M348.5 57L371.39 58.94" stroke="#f4f4f4" stroke-width="0.55" stroke-opacity="0.9" fill="none"/>
<path d="M348.5 78.35L371.39 80.45" stroke="#f4f4f4" stroke-width="0.55" stroke-opacity="0.9" fill="none"/>
<path d="M371.39 26.66L382.2 27.46" stroke="#f4f4f4" stroke-width="0.55" stroke-opacity="0.9" fill="none"/>
<path d="M371.39 37.42L382.2 38.25" stroke="#f4f4f4" stroke-width="0.55" stroke-opacity="0.9" fill="none"/>
<path d="M371.39 48.18L382.2 49.05" stroke="#f4f4f4" stroke-width="0.55" stroke-opacity="0.9" fill="none"/>
<path d="M371.39 58.94L382.2 59.85" stroke="#f4f4f4" stroke-width="0.55" stroke-opacity="0.9" fill="none"/>
<path d="M371.39 69.69L382.2 70.65" stroke="#f4f4f4" stroke-width="0.55" stroke-opacity="0.9" fill="none"/>
<path d="M371.39 80.45L382.2 81.44" stroke="#f4f4f4" stroke-width="0.55" stroke-opacity="0.9" fill="none"/>
<path d="M371.39 91.21L382.2 92.24" stroke="#f4f4f4" stroke-width="0.55" stroke-opacity="0.9" fill="none"/>
<path d="M382.2 22.06L387 22.4" stroke="#f4f4f4" stroke-width="0.55" stroke-opacity="0.9" fill="none"/>
<path d="M382.2 27.46L387 27.81" stroke="#f4f4f4" stroke-width="0.55" stroke-opacity="0.9" fill="none"/>
<path d="M382.2 32.86L387 33.22" stroke="#f4f4f4" stroke-width="0.55" stroke-opacity="0.9" fill="none"/>
<path d="M382.2 38.25L387 38.63" stroke="#f4f4f4" stroke-width="0.55" stroke-opacity="0.9" fill="none"/>
<path d="M382.2 43.65L387 44.03" stroke="#f4f4f4" stroke-width="0.55" stroke-opacity="0.9" fill="none"/>
<path d="M382.2 49.05L387 49.44" stroke="#f4f4f4" stroke-width="0.55" stroke-opacity="0.9" fill="none"/>
<path d="M382.2 54.45L387 54.85" stroke="#f4f4f4" stroke-width="0.55" stroke-opacity="0.9" fill="none"/>
<path d="M382.2 59.85L387 60.25" stroke="#f4f4f4" stroke-width="0.55" stroke-opacity="0.9" fill="none"/>
<path d="M382.2 65.25L387 65.66" stroke="#f4f4f4" stroke-width="0.55" stroke-opacity="0.9" fill="none"/>
<path d="M382.2 70.65L387 71.07" stroke="#f4f4f4" stroke-width="0.55" stroke-opacity="0.9" fill="none"/>
<path d="M382.2 76.04L387 76.48" stroke="#f4f4f4" stroke-width="0.55" stroke-opacity="0.9" fill="none"/>
<path d="M382.2 81.44L387 81.88" stroke="#f4f4f4" stroke-width="0.55" stroke-opacity="0.9" fill="none"/>
<path d="M382.2 86.84L387 87.29" stroke="#f4f4f4" stroke-width="0.55" stroke-opacity="0.9" fill="none"/>
<path d="M382.2 92.24L387 92.7" stroke="#f4f4f4" stroke-width="0.55" stroke-opacity="0.9" fill="none"/>
<path d="M382.2 97.64L387 98.11" stroke="#f4f4f4" stroke-width="0.55" stroke-opacity="0.9" fill="none"/>
<path d="M371.39 15.9L371.39 101.97" stroke="#f4f4f4" stroke-width="0.65" stroke-opacity="0.9" fill="none"/>
<path d="M382.2 16.66L382.2 103.04" stroke="#f4f4f4" stroke-width="0.65" stroke-opacity="0.9" fill="none"/>
<path d="M387 17L387 103.51" stroke="#f4f4f4" stroke-width="0.65" stroke-opacity="0.9" fill="none"/>
<rect x="399.3" y="17.2" width="8.6" height="4.15" fill="#ee1c12"/>
<rect x="399.3" y="21.3" width="8.6" height="6.66" fill="#f47c1a"/>
<rect x="399.3" y="27.91" width="8.6" height="6.66" fill="#f4e21a"/>
<rect x="399.3" y="34.52" width="8.6" height="6.66" fill="#aaee1c"/>
<rect x="399.3" y="41.13" width="8.6" height="6.66" fill="#44de22"/>
<rect x="399.3" y="47.74" width="8.6" height="6.66" fill="#22ca42"/>
<rect x="399.3" y="54.35" width="8.6" height="6.66" fill="#24dea2"/>
<rect x="399.3" y="60.96" width="8.6" height="6.66" fill="#26d6f0"/>
<rect x="399.3" y="67.57" width="8.6" height="6.66" fill="#2a92f0"/>
<rect x="399.3" y="74.18" width="8.6" height="2.47" fill="#1432ee"/>
<g font-size="5.4" font-weight="normal" fill="#0a0a0a" stroke="#0a0a0a" stroke-width="0.2">
<text x="411.5" y="23.54" transform="rotate(0.03 411.5 23.54)">600</text>
<text x="411.5" y="30.14" transform="rotate(0.03 411.5 30.14)">550</text>
<text x="411.5" y="36.74" transform="rotate(0.03 411.5 36.74)">500</text>
<text x="411.5" y="43.34" transform="rotate(0.03 411.5 43.34)">450</text>
<text x="411.5" y="49.94" transform="rotate(0.03 411.5 49.94)">400</text>
<text x="411.5" y="56.54" transform="rotate(0.03 411.5 56.54)">350</text>
<text x="411.5" y="63.14" transform="rotate(0.03 411.5 63.14)">300</text>
<text x="411.5" y="69.74" transform="rotate(0.03 411.5 69.74)">250</text>
<text x="411.5" y="76.34" transform="rotate(0.03 411.5 76.34)">200</text>
</g>
<text x="410.7" y="16" font-size="5.8" font-weight="bold" fill="#111">MPa</text>
<g clip-path="url(#cp5)">
<polygon points="117.9,196.1 125.5,189.6 167.3,194 159.1,198.9" fill="#34c860"/>
<g filter="url(#bl0)">
<ellipse cx="128" cy="194.5" rx="7" ry="2.2" fill="#a81c10"/><ellipse cx="139" cy="193" rx="6" ry="2" fill="#e0a030"/><ellipse cx="122" cy="194.5" rx="3" ry="1.5" fill="#28b8c8"/><ellipse cx="155" cy="195" rx="8" ry="2.5" fill="#38cc48"/>
</g></g>
<path d="M131.29 197.01L139.09 191.03" stroke="#f4f4f4" stroke-width="0.55" stroke-opacity="1" fill="none"/>
<path d="M144.89 197.93L152.88 192.48" stroke="#f4f4f4" stroke-width="0.55" stroke-opacity="1" fill="none"/>
<path d="M121.7 192.85L163.2 196.45" stroke="#f4f4f4" stroke-width="0.5" stroke-opacity="0.85" fill="none"/>
<g clip-path="url(#cp6)">
<polygon points="159.1,198.9 167.3,194 167,269.4 159.1,277.2" fill="#30b548"/>
<g filter="url(#bl0)">
<ellipse cx="163" cy="229" rx="5" ry="7" fill="#2aa6c8"/><ellipse cx="162.5" cy="244" rx="1.6" ry="5" fill="#d88a20"/><ellipse cx="162" cy="213" rx="2" ry="5" fill="#78c428"/><ellipse cx="164" cy="262" rx="3" ry="8" fill="#2ab090"/>
</g></g>
<path d="M159.1 211.95L167.25 206.57" stroke="#f4f4f4" stroke-width="0.5" stroke-opacity="0.85" fill="none"/>
<path d="M159.1 225L167.2 219.13" stroke="#f4f4f4" stroke-width="0.5" stroke-opacity="0.85" fill="none"/>
<path d="M159.1 238.05L167.15 231.7" stroke="#f4f4f4" stroke-width="0.5" stroke-opacity="0.85" fill="none"/>
<path d="M159.1 251.1L167.1 244.27" stroke="#f4f4f4" stroke-width="0.5" stroke-opacity="0.85" fill="none"/>
<path d="M159.1 264.15L167.05 256.83" stroke="#f4f4f4" stroke-width="0.5" stroke-opacity="0.85" fill="none"/>
<path d="M163.2 196.45L163.05 273.3" stroke="#f4f4f4" stroke-width="0.5" stroke-opacity="0.85" fill="none"/>
<g clip-path="url(#cp7)">
<polygon points="117.9,196.1 159.1,198.9 159.1,277.2 117.9,273.5" fill="#38d670"/>
<g filter="url(#bl1)">
<ellipse cx="138" cy="201.5" rx="24" ry="7.5" fill="#a2e62c"/><ellipse cx="127" cy="200.5" rx="10" ry="4.2" fill="#f0c428"/><ellipse cx="126" cy="198.2" rx="6.5" ry="1.8" fill="#b81a10"/><ellipse cx="121" cy="200.5" rx="2.2" ry="1.2" fill="#e84a1a"/><ellipse cx="134.5" cy="203.5" rx="4.6" ry="1.9" fill="#f08a20" transform="rotate(52 134.5 203.5)"/><ellipse cx="149.5" cy="204.5" rx="5.2" ry="2.1" fill="#f08a20" transform="rotate(32 149.5 204.5)"/><ellipse cx="149.5" cy="204.5" rx="3" ry="1" fill="#ea5a1a" transform="rotate(32 149.5 204.5)"/><ellipse cx="125" cy="215.5" rx="4.2" ry="1.7" fill="#8ee43a"/><ellipse cx="137.5" cy="215.5" rx="4" ry="2" fill="#8ee43a" transform="rotate(-15 137.5 215.5)"/><ellipse cx="152" cy="215" rx="5" ry="3" fill="#52dc4a"/><ellipse cx="138" cy="229" rx="26" ry="6" fill="#33c8e4"/><ellipse cx="127" cy="233" rx="9" ry="3" fill="#35d6c8"/><ellipse cx="154.5" cy="229.2" rx="3.2" ry="1.1" fill="#2a5ee0"/><ellipse cx="121" cy="227.5" rx="4" ry="2.6" fill="#2fb8ea"/><ellipse cx="124" cy="247" rx="7" ry="6" fill="#3ada62"/><ellipse cx="140" cy="254" rx="3" ry="10" fill="#2fd0c0" transform="rotate(35 140 254)"/><ellipse cx="152" cy="248" rx="3" ry="9" fill="#3ad8b0" transform="rotate(-20 152 248)"/><ellipse cx="126" cy="266" rx="7" ry="3.5" fill="#48da3e"/><ellipse cx="119" cy="256" rx="2" ry="5" fill="#30cfd0"/><ellipse cx="148" cy="268" rx="8" ry="4" fill="#34d890"/><ellipse cx="133" cy="243" rx="4" ry="3" fill="#5ade3c"/>
</g></g>
<path d="M117.9 209L131.29 209.96" stroke="#f4f4f4" stroke-width="0.55" stroke-opacity="0.9" fill="none"/>
<path d="M117.9 221.9L131.29 222.91" stroke="#f4f4f4" stroke-width="0.55" stroke-opacity="0.9" fill="none"/>
<path d="M117.9 234.8L131.29 235.86" stroke="#f4f4f4" stroke-width="0.55" stroke-opacity="0.9" fill="none"/>
<path d="M117.9 247.7L131.29 248.8" stroke="#f4f4f4" stroke-width="0.55" stroke-opacity="0.9" fill="none"/>
<path d="M117.9 260.6L131.29 261.75" stroke="#f4f4f4" stroke-width="0.55" stroke-opacity="0.9" fill="none"/>
<path d="M131.29 209.96L144.89 210.93" stroke="#f4f4f4" stroke-width="0.55" stroke-opacity="0.9" fill="none"/>
<path d="M131.29 222.91L144.89 223.93" stroke="#f4f4f4" stroke-width="0.55" stroke-opacity="0.9" fill="none"/>
<path d="M131.29 235.86L144.89 236.93" stroke="#f4f4f4" stroke-width="0.55" stroke-opacity="0.9" fill="none"/>
<path d="M131.29 248.8L144.89 249.93" stroke="#f4f4f4" stroke-width="0.55" stroke-opacity="0.9" fill="none"/>
<path d="M131.29 261.75L144.89 262.93" stroke="#f4f4f4" stroke-width="0.55" stroke-opacity="0.9" fill="none"/>
<path d="M144.89 210.93L159.1 211.95" stroke="#f4f4f4" stroke-width="0.55" stroke-opacity="0.9" fill="none"/>
<path d="M144.89 223.93L159.1 225" stroke="#f4f4f4" stroke-width="0.55" stroke-opacity="0.9" fill="none"/>
<path d="M144.89 236.93L159.1 238.05" stroke="#f4f4f4" stroke-width="0.55" stroke-opacity="0.9" fill="none"/>
<path d="M144.89 249.93L159.1 251.1" stroke="#f4f4f4" stroke-width="0.55" stroke-opacity="0.9" fill="none"/>
<path d="M144.89 262.93L159.1 264.15" stroke="#f4f4f4" stroke-width="0.55" stroke-opacity="0.9" fill="none"/>
<path d="M131.29 197.01L131.29 274.7" stroke="#f4f4f4" stroke-width="0.65" stroke-opacity="0.9" fill="none"/>
<path d="M144.89 197.93L144.89 275.92" stroke="#f4f4f4" stroke-width="0.65" stroke-opacity="0.9" fill="none"/>
<rect x="169.8" y="193.2" width="7.6" height="3.85" fill="#ee1c12"/>
<rect x="169.8" y="197" width="7.6" height="5.95" fill="#f4581a"/>
<rect x="169.8" y="202.9" width="7.6" height="5.95" fill="#f59218"/>
<rect x="169.8" y="208.8" width="7.6" height="5.95" fill="#f5c618"/>
<rect x="169.8" y="214.7" width="7.6" height="5.95" fill="#f0ee1a"/>
<rect x="169.8" y="220.6" width="7.6" height="5.95" fill="#b2ee1c"/>
<rect x="169.8" y="226.5" width="7.6" height="5.95" fill="#74e626"/>
<rect x="169.8" y="232.4" width="7.6" height="5.95" fill="#36d636"/>
<rect x="169.8" y="238.3" width="7.6" height="5.95" fill="#22ce5e"/>
<rect x="169.8" y="244.2" width="7.6" height="5.95" fill="#24d692"/>
<rect x="169.8" y="250.1" width="7.6" height="5.95" fill="#26dec6"/>
<rect x="169.8" y="256" width="7.6" height="5.95" fill="#28cef0"/>
<rect x="169.8" y="261.9" width="7.6" height="5.95" fill="#2aa0f0"/>
<rect x="169.8" y="267.8" width="7.6" height="5.95" fill="#2862f0"/>
<rect x="169.8" y="273.7" width="7.6" height="2.35" fill="#1422e6"/>
<g font-size="4.9" font-weight="normal" fill="#0a0a0a" stroke="#0a0a0a" stroke-width="0.2">
<text x="181.5" y="199.06" transform="rotate(0.03 181.5 199.06)">0.01</text>
<text x="181.5" y="204.96" transform="rotate(0.03 181.5 204.96)">0.009</text>
<text x="181.5" y="210.86" transform="rotate(0.03 181.5 210.86)">0.008</text>
<text x="181.5" y="216.76" transform="rotate(0.03 181.5 216.76)">0.007</text>
<text x="181.5" y="222.66" transform="rotate(0.03 181.5 222.66)">0.006</text>
<text x="181.5" y="228.56" transform="rotate(0.03 181.5 228.56)">0.005</text>
<text x="181.5" y="234.46" transform="rotate(0.03 181.5 234.46)">0.004</text>
<text x="181.5" y="240.36" transform="rotate(0.03 181.5 240.36)">0.003</text>
<text x="181.5" y="246.26" transform="rotate(0.03 181.5 246.26)">0.002</text>
<text x="181.5" y="252.16" transform="rotate(0.03 181.5 252.16)">0.001</text>
<text x="181.5" y="258.06" transform="rotate(0.03 181.5 258.06)">0.0005</text>
<text x="181.5" y="263.96" transform="rotate(0.03 181.5 263.96)">0.0001</text>
<text x="181.5" y="269.86" transform="rotate(0.03 181.5 269.86)">5E-05</text>
<text x="181.5" y="275.76" transform="rotate(0.03 181.5 275.76)">1E-05</text>
</g>
<g clip-path="url(#cp8)">
<polygon points="349,194 358.6,187.2 398.6,190.6 390.4,196.9" fill="#3ac83a"/>
<g filter="url(#bl0)">
<ellipse cx="356" cy="191.5" rx="5" ry="2" fill="#2aa84a"/><ellipse cx="392" cy="193" rx="6" ry="2" fill="#2aa83a"/><ellipse cx="375" cy="192" rx="6" ry="2" fill="#66d232"/>
</g></g>
<path d="M362.62 194.95L371.76 188.32" stroke="#f4f4f4" stroke-width="0.55" stroke-opacity="1" fill="none"/>
<path d="M376.78 195.95L385.44 189.48" stroke="#f4f4f4" stroke-width="0.55" stroke-opacity="1" fill="none"/>
<path d="M353.8 190.6L394.5 193.75" stroke="#f4f4f4" stroke-width="0.5" stroke-opacity="0.85" fill="none"/>
<g clip-path="url(#cp9)">
<polygon points="390.4,196.9 398.6,190.6 398.6,268.6 389.9,275.2" fill="#2ca428"/>
<g filter="url(#bl0)">
<ellipse cx="394" cy="215" rx="3" ry="16" fill="#3aba34"/><ellipse cx="396.5" cy="245" rx="1.6" ry="8" fill="#c8c040"/><ellipse cx="394" cy="262" rx="3" ry="8" fill="#2ab060"/>
</g></g>
<path d="M390.32 209.95L398.6 203.6" stroke="#f4f4f4" stroke-width="0.5" stroke-opacity="0.85" fill="none"/>
<path d="M390.23 223L398.6 216.6" stroke="#f4f4f4" stroke-width="0.5" stroke-opacity="0.85" fill="none"/>
<path d="M390.15 236.05L398.6 229.6" stroke="#f4f4f4" stroke-width="0.5" stroke-opacity="0.85" fill="none"/>
<path d="M390.07 249.1L398.6 242.6" stroke="#f4f4f4" stroke-width="0.5" stroke-opacity="0.85" fill="none"/>
<path d="M389.98 262.15L398.6 255.6" stroke="#f4f4f4" stroke-width="0.5" stroke-opacity="0.85" fill="none"/>
<path d="M394.5 193.75L394.25 271.9" stroke="#f4f4f4" stroke-width="0.5" stroke-opacity="0.85" fill="none"/>
<g clip-path="url(#cp10)">
<polygon points="349,194 390.4,196.9 389.9,275.2 349,271.9" fill="#46d634"/>
<g filter="url(#bl1)">
<ellipse cx="352" cy="215" rx="5" ry="24" fill="#5cdc30"/><ellipse cx="378.5" cy="222" rx="7.2" ry="34" fill="#8edc2a" transform="rotate(-15 378.5 222)"/><ellipse cx="381" cy="216" rx="3.6" ry="22" fill="#a8de28" transform="rotate(-15 381 216)"/><ellipse cx="358.5" cy="230" rx="4.2" ry="24" fill="#82dc2c" transform="rotate(-20 358.5 230)"/><ellipse cx="372" cy="197.2" rx="4.6" ry="2.6" fill="#e8d42a"/><ellipse cx="371.5" cy="196.4" rx="3" ry="1.3" fill="#f08a22"/><ellipse cx="376.8" cy="209" rx="1.8" ry="2.4" fill="#f0c42a"/><ellipse cx="386" cy="240" rx="3.5" ry="12" fill="#7ada2e"/><ellipse cx="356" cy="257" rx="9" ry="11" fill="#34d68c"/><ellipse cx="372" cy="263" rx="8" ry="8" fill="#38d690"/><ellipse cx="361" cy="269.5" rx="6" ry="2.2" fill="#2fcfd0"/><ellipse cx="386" cy="262" rx="4" ry="10" fill="#44da50"/><ellipse cx="350" cy="248" rx="2.5" ry="6" fill="#34d8a0"/><path d="M347 271.2 L392 274.8" stroke="#f04a1e" stroke-width="1.5" fill="none"/>
</g></g>
<path d="M349 271.9L389.9 275.2" stroke="#f03a1a" stroke-width="1" stroke-opacity="1" fill="none"/>
<path d="M389.9 275.2L398.6 268.6" stroke="#e8a030" stroke-width="0.7" stroke-opacity="1" fill="none"/>
<path d="M349 206.98L362.59 207.96" stroke="#f4f4f4" stroke-width="0.55" stroke-opacity="0.9" fill="none"/>
<path d="M349 219.97L362.57 220.96" stroke="#f4f4f4" stroke-width="0.55" stroke-opacity="0.9" fill="none"/>
<path d="M349 232.95L362.54 233.97" stroke="#f4f4f4" stroke-width="0.55" stroke-opacity="0.9" fill="none"/>
<path d="M349 245.93L362.51 246.98" stroke="#f4f4f4" stroke-width="0.55" stroke-opacity="0.9" fill="none"/>
<path d="M349 258.92L362.48 259.98" stroke="#f4f4f4" stroke-width="0.55" stroke-opacity="0.9" fill="none"/>
<path d="M362.59 207.96L376.72 208.97" stroke="#f4f4f4" stroke-width="0.55" stroke-opacity="0.9" fill="none"/>
<path d="M362.57 220.96L376.67 222" stroke="#f4f4f4" stroke-width="0.55" stroke-opacity="0.9" fill="none"/>
<path d="M362.54 233.97L376.61 235.03" stroke="#f4f4f4" stroke-width="0.55" stroke-opacity="0.9" fill="none"/>
<path d="M362.51 246.98L376.56 248.06" stroke="#f4f4f4" stroke-width="0.55" stroke-opacity="0.9" fill="none"/>
<path d="M362.48 259.98L376.5 261.09" stroke="#f4f4f4" stroke-width="0.55" stroke-opacity="0.9" fill="none"/>
<path d="M376.72 208.97L390.32 209.95" stroke="#f4f4f4" stroke-width="0.55" stroke-opacity="0.9" fill="none"/>
<path d="M376.67 222L390.23 223" stroke="#f4f4f4" stroke-width="0.55" stroke-opacity="0.9" fill="none"/>
<path d="M376.61 235.03L390.15 236.05" stroke="#f4f4f4" stroke-width="0.55" stroke-opacity="0.9" fill="none"/>
<path d="M376.56 248.06L390.07 249.1" stroke="#f4f4f4" stroke-width="0.55" stroke-opacity="0.9" fill="none"/>
<path d="M376.5 261.09L389.98 262.15" stroke="#f4f4f4" stroke-width="0.55" stroke-opacity="0.9" fill="none"/>
<path d="M362.62 194.95L362.46 272.99" stroke="#f4f4f4" stroke-width="0.65" stroke-opacity="0.9" fill="none"/>
<path d="M376.78 195.95L376.44 274.11" stroke="#f4f4f4" stroke-width="0.65" stroke-opacity="0.9" fill="none"/>
<rect x="401.8" y="196.8" width="7.8" height="3.55" fill="#ee1c12"/>
<rect x="401.8" y="200.3" width="7.8" height="6.44" fill="#f46c1a"/>
<rect x="401.8" y="206.69" width="7.8" height="6.44" fill="#f5b218"/>
<rect x="401.8" y="213.08" width="7.8" height="6.44" fill="#f0ee1a"/>
<rect x="401.8" y="219.47" width="7.8" height="6.44" fill="#aaee1c"/>
<rect x="401.8" y="225.86" width="7.8" height="6.44" fill="#52de22"/>
<rect x="401.8" y="232.25" width="7.8" height="6.44" fill="#22ca42"/>
<rect x="401.8" y="238.64" width="7.8" height="6.44" fill="#24d682"/>
<rect x="401.8" y="245.03" width="7.8" height="6.44" fill="#26dec6"/>
<rect x="401.8" y="251.42" width="7.8" height="6.44" fill="#28b6f0"/>
<rect x="401.8" y="257.81" width="7.8" height="6.44" fill="#2a72f0"/>
<rect x="401.8" y="264.2" width="7.8" height="2.15" fill="#1422e6"/>
<g font-size="5.4" font-weight="normal" fill="#0a0a0a" stroke="#0a0a0a" stroke-width="0.2">
<text x="411.6" y="202.44" transform="rotate(0.03 411.6 202.44)">750</text>
<text x="411.6" y="208.83" transform="rotate(0.03 411.6 208.83)">700</text>
<text x="411.6" y="215.22" transform="rotate(0.03 411.6 215.22)">650</text>
<text x="411.6" y="221.61" transform="rotate(0.03 411.6 221.61)">600</text>
<text x="411.6" y="228" transform="rotate(0.03 411.6 228)">550</text>
<text x="411.6" y="234.39" transform="rotate(0.03 411.6 234.39)">500</text>
<text x="411.6" y="240.78" transform="rotate(0.03 411.6 240.78)">450</text>
<text x="411.6" y="247.17" transform="rotate(0.03 411.6 247.17)">400</text>
<text x="411.6" y="253.56" transform="rotate(0.03 411.6 253.56)">350</text>
<text x="411.6" y="259.95" transform="rotate(0.03 411.6 259.95)">300</text>
<text x="411.6" y="266.34" transform="rotate(0.03 411.6 266.34)">250</text>
</g>
<text x="411.2" y="195.3" font-size="5.8" font-weight="bold" fill="#111">MPa</text></svg>
</body></html>
